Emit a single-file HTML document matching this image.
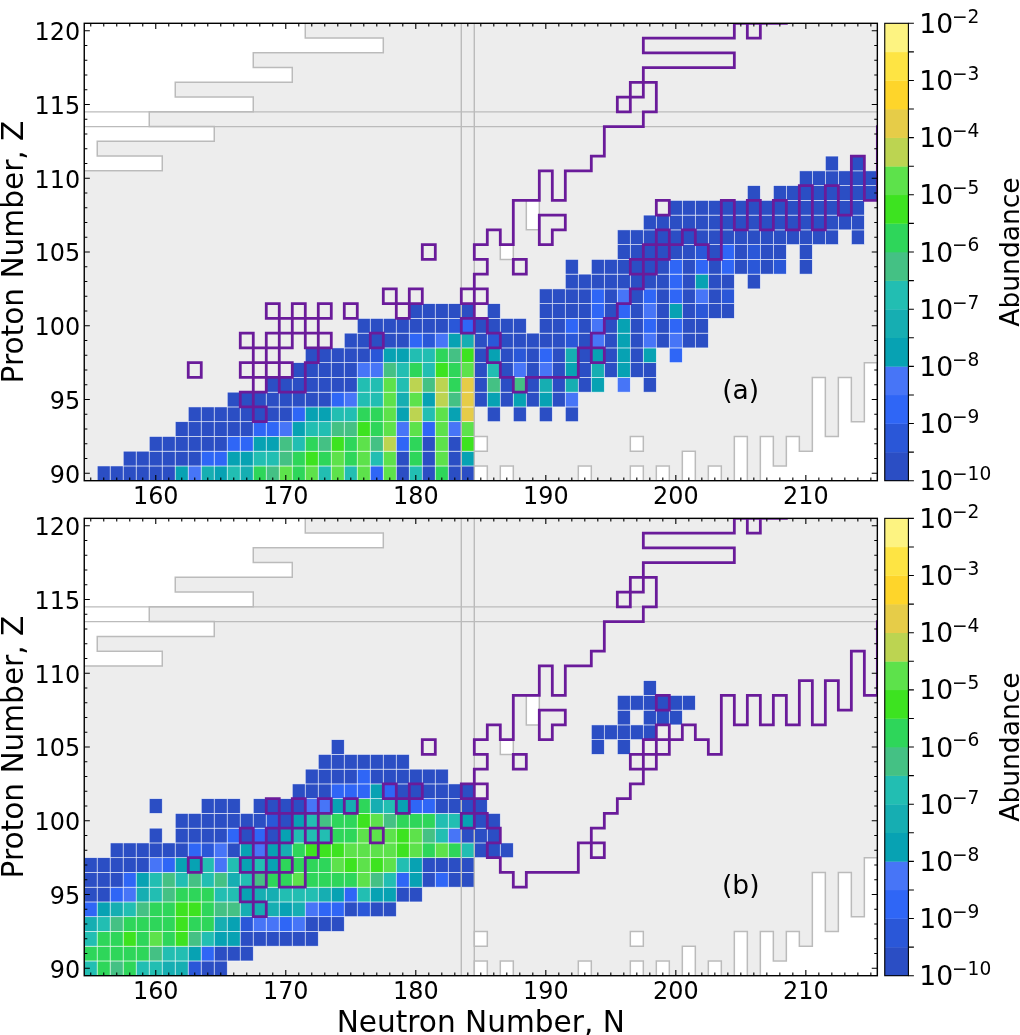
<!DOCTYPE html><html><head><meta charset="utf-8"><style>html,body{margin:0;padding:0;background:#fff}svg{display:block}text{font-family:"DejaVu Sans","Liberation Sans",sans-serif;fill:#000}</style></head><body>
<svg width="1020" height="1035" viewBox="0 0 1020 1035">
<rect width="1020" height="1035" fill="#fff"/>
<clipPath id="clipa"><rect x="84.25" y="23.3" width="793.1" height="457.4"/></clipPath>
<rect x="84.25" y="23.3" width="793.1" height="457.4" fill="#ededed"/>
<g clip-path="url(#clipa)"><g>
<path d="M474.3 465.55H487.3V481.1H474.3ZM500.3 465.55H513.3V481.1H500.3ZM578.31 465.55H591.31V481.1H578.31ZM630.32 465.55H643.32V481.1H630.32ZM656.32 465.55H669.32V481.1H656.32ZM682.33 465.55H695.33V481.1H682.33ZM708.33 465.55H721.33V481.1H708.33ZM734.33 465.55H747.33V481.1H734.33ZM760.34 465.55H877.35V481.1H760.34ZM682.33 450.79H695.33V466.35H682.33ZM734.33 450.79H747.33V466.35H734.33ZM760.34 450.79H773.34V466.35H760.34ZM786.34 450.79H877.35V466.35H786.34ZM474.3 436.04H487.3V451.59H474.3ZM630.32 436.04H643.32V451.59H630.32ZM734.33 436.04H747.33V451.59H734.33ZM760.34 436.04H773.34V451.59H760.34ZM786.34 436.04H799.34V451.59H786.34ZM812.34 436.04H877.35V451.59H812.34ZM812.34 421.28H825.34V436.84H812.34ZM838.35 421.28H877.35V436.84H838.35ZM812.34 406.53H825.34V422.08H812.34ZM838.35 406.53H851.35V422.08H838.35ZM864.35 406.53H877.35V422.08H864.35ZM812.34 391.77H825.34V407.33H812.34ZM838.35 391.77H851.35V407.33H838.35ZM864.35 391.77H877.35V407.33H864.35ZM812.34 377.02H825.34V392.57H812.34ZM838.35 377.02H851.35V392.57H838.35ZM864.35 377.02H877.35V392.57H864.35ZM864.35 362.26H877.35V377.82H864.35ZM500.3 244.22H513.3V259.78H500.3ZM526.31 214.71H539.31V230.27H526.31ZM526.31 199.96H539.31V215.51H526.31ZM84.25 155.69H162.26V171.25H84.25ZM84.25 140.94H97.25V156.49H84.25ZM84.25 126.18H214.27V141.74H84.25ZM84.25 111.43H149.26V126.98H84.25ZM84.25 96.67H253.27V112.23H84.25ZM84.25 81.92H175.26V97.47H84.25ZM84.25 67.16H292.28V82.72H84.25ZM84.25 52.41H253.27V67.96H84.25ZM84.25 37.65H383.29V53.21H84.25ZM84.25 22.9H305.28V38.45H84.25Z" fill="#fff"/>
<path d="M97.25 141.34H214.27M474.3 480.7H487.3M500.3 480.7H513.3M578.31 480.7H591.31M630.32 480.7H643.32M656.32 480.7H669.32M682.33 480.7H695.33M708.33 480.7H721.33M734.33 480.7H747.33M760.34 480.7H877.35M474.3 465.95H487.3M500.3 465.95H513.3M578.31 465.95H591.31M630.32 465.95H643.32M656.32 465.95H669.32M708.33 465.95H721.33M773.34 465.95H786.34M149.26 126.58H214.27M253.27 52.81H383.29M305.28 38.05H383.29M500.3 259.38H513.3M500.3 244.62H513.3M149.26 111.83H253.27M175.26 97.07H253.27M474.3 436.44H487.3M630.32 436.44H643.32M734.33 436.44H747.33M760.34 436.44H773.34M786.34 436.44H799.34M825.34 436.44H838.35M84.25 23.3H305.28M175.26 82.32H292.28M474.3 451.19H487.3M630.32 451.19H643.32M682.33 451.19H695.33M799.34 451.19H812.34M812.34 377.42H825.34M838.35 377.42H851.35M253.27 67.56H292.28M84.25 170.85H162.26M97.25 156.09H162.26M864.35 362.66H877.35M526.31 200.36H539.31M526.31 229.87H539.31M851.35 421.68H864.35M708.33 465.95V480.7M721.33 465.95V480.7M760.34 436.44V480.7M149.26 111.83V126.58M864.35 362.66V421.68M877.35 362.66V480.7M84.25 23.3V170.85M383.29 38.05V52.81M500.3 465.95V480.7M500.3 244.62V259.38M513.3 465.95V480.7M513.3 244.62V259.38M773.34 436.44V465.95M175.26 82.32V97.07M97.25 141.34V156.09M630.32 465.95V480.7M630.32 436.44V451.19M643.32 465.95V480.7M643.32 436.44V451.19M305.28 23.3V38.05M656.32 465.95V480.7M669.32 465.95V480.7M812.34 377.42V451.19M825.34 377.42V436.44M253.27 97.07V111.83M253.27 52.81V67.56M838.35 377.42V436.44M851.35 377.42V421.68M734.33 436.44V480.7M747.33 436.44V480.7M578.31 465.95V480.7M591.31 465.95V480.7M786.34 436.44V465.95M799.34 436.44V451.19M682.33 451.19V480.7M695.33 451.19V480.7M474.3 465.95V480.7M474.3 436.44V451.19M487.3 465.95V480.7M487.3 436.44V451.19M526.31 200.36V229.87M539.31 200.36V229.87M162.26 156.09V170.85M214.27 126.58V141.34M292.28 67.56V82.32" stroke="#bbbbbb" stroke-width="1.5" fill="none" stroke-linecap="square"/>
<rect x="97.25" y="465.95" width="13" height="14.75" fill="#2b4ec4" stroke="#fff" stroke-opacity="0.75" stroke-width="0.7"/>
<rect x="110.25" y="465.95" width="13" height="14.75" fill="#2b4ec4" stroke="#fff" stroke-opacity="0.75" stroke-width="0.7"/>
<rect x="123.25" y="465.95" width="13" height="14.75" fill="#2b4ec4" stroke="#fff" stroke-opacity="0.75" stroke-width="0.7"/>
<rect x="136.26" y="465.95" width="13" height="14.75" fill="#2b4ec4" stroke="#fff" stroke-opacity="0.75" stroke-width="0.7"/>
<rect x="149.26" y="465.95" width="13" height="14.75" fill="#2b4ec4" stroke="#fff" stroke-opacity="0.75" stroke-width="0.7"/>
<rect x="162.26" y="465.95" width="13" height="14.75" fill="#2b4ec4" stroke="#fff" stroke-opacity="0.75" stroke-width="0.7"/>
<rect x="175.26" y="465.95" width="13" height="14.75" fill="#07a2b3" stroke="#fff" stroke-opacity="0.75" stroke-width="0.7"/>
<rect x="188.26" y="465.95" width="13" height="14.75" fill="#4775f7" stroke="#fff" stroke-opacity="0.75" stroke-width="0.7"/>
<rect x="201.26" y="465.95" width="13" height="14.75" fill="#16aeb2" stroke="#fff" stroke-opacity="0.75" stroke-width="0.7"/>
<rect x="214.27" y="465.95" width="13" height="14.75" fill="#07a2b3" stroke="#fff" stroke-opacity="0.75" stroke-width="0.7"/>
<rect x="227.27" y="465.95" width="13" height="14.75" fill="#22beb2" stroke="#fff" stroke-opacity="0.75" stroke-width="0.7"/>
<rect x="240.27" y="465.95" width="13" height="14.75" fill="#16aeb2" stroke="#fff" stroke-opacity="0.75" stroke-width="0.7"/>
<rect x="253.27" y="465.95" width="13" height="14.75" fill="#2ed65a" stroke="#fff" stroke-opacity="0.75" stroke-width="0.7"/>
<rect x="266.27" y="465.95" width="13" height="14.75" fill="#44c184" stroke="#fff" stroke-opacity="0.75" stroke-width="0.7"/>
<rect x="279.27" y="465.95" width="13" height="14.75" fill="#5de24b" stroke="#fff" stroke-opacity="0.75" stroke-width="0.7"/>
<rect x="292.28" y="465.95" width="13" height="14.75" fill="#2ed65a" stroke="#fff" stroke-opacity="0.75" stroke-width="0.7"/>
<rect x="305.28" y="465.95" width="13" height="14.75" fill="#5de24b" stroke="#fff" stroke-opacity="0.75" stroke-width="0.7"/>
<rect x="318.28" y="465.95" width="13" height="14.75" fill="#22beb2" stroke="#fff" stroke-opacity="0.75" stroke-width="0.7"/>
<rect x="331.28" y="465.95" width="13" height="14.75" fill="#5de24b" stroke="#fff" stroke-opacity="0.75" stroke-width="0.7"/>
<rect x="344.28" y="465.95" width="13" height="14.75" fill="#22beb2" stroke="#fff" stroke-opacity="0.75" stroke-width="0.7"/>
<rect x="357.28" y="465.95" width="13" height="14.75" fill="#5de24b" stroke="#fff" stroke-opacity="0.75" stroke-width="0.7"/>
<rect x="370.29" y="465.95" width="13" height="14.75" fill="#2f66f6" stroke="#fff" stroke-opacity="0.75" stroke-width="0.7"/>
<rect x="383.29" y="465.95" width="13" height="14.75" fill="#5de24b" stroke="#fff" stroke-opacity="0.75" stroke-width="0.7"/>
<rect x="396.29" y="465.95" width="13" height="14.75" fill="#2b4ec4" stroke="#fff" stroke-opacity="0.75" stroke-width="0.7"/>
<rect x="409.29" y="465.95" width="13" height="14.75" fill="#22beb2" stroke="#fff" stroke-opacity="0.75" stroke-width="0.7"/>
<rect x="422.29" y="465.95" width="13" height="14.75" fill="#2b4ec4" stroke="#fff" stroke-opacity="0.75" stroke-width="0.7"/>
<rect x="435.29" y="465.95" width="13" height="14.75" fill="#2ed65a" stroke="#fff" stroke-opacity="0.75" stroke-width="0.7"/>
<rect x="448.3" y="465.95" width="13" height="14.75" fill="#2b4ec4" stroke="#fff" stroke-opacity="0.75" stroke-width="0.7"/>
<rect x="461.3" y="465.95" width="13" height="14.75" fill="#2b4ec4" stroke="#fff" stroke-opacity="0.75" stroke-width="0.7"/>
<rect x="123.25" y="451.19" width="13" height="14.75" fill="#2b4ec4" stroke="#fff" stroke-opacity="0.75" stroke-width="0.7"/>
<rect x="136.26" y="451.19" width="13" height="14.75" fill="#2b4ec4" stroke="#fff" stroke-opacity="0.75" stroke-width="0.7"/>
<rect x="149.26" y="451.19" width="13" height="14.75" fill="#2b4ec4" stroke="#fff" stroke-opacity="0.75" stroke-width="0.7"/>
<rect x="162.26" y="451.19" width="13" height="14.75" fill="#2b4ec4" stroke="#fff" stroke-opacity="0.75" stroke-width="0.7"/>
<rect x="175.26" y="451.19" width="13" height="14.75" fill="#2b4ec4" stroke="#fff" stroke-opacity="0.75" stroke-width="0.7"/>
<rect x="188.26" y="451.19" width="13" height="14.75" fill="#2b4ec4" stroke="#fff" stroke-opacity="0.75" stroke-width="0.7"/>
<rect x="201.26" y="451.19" width="13" height="14.75" fill="#2f66f6" stroke="#fff" stroke-opacity="0.75" stroke-width="0.7"/>
<rect x="214.27" y="451.19" width="13" height="14.75" fill="#2f66f6" stroke="#fff" stroke-opacity="0.75" stroke-width="0.7"/>
<rect x="227.27" y="451.19" width="13" height="14.75" fill="#07a2b3" stroke="#fff" stroke-opacity="0.75" stroke-width="0.7"/>
<rect x="240.27" y="451.19" width="13" height="14.75" fill="#07a2b3" stroke="#fff" stroke-opacity="0.75" stroke-width="0.7"/>
<rect x="253.27" y="451.19" width="13" height="14.75" fill="#22beb2" stroke="#fff" stroke-opacity="0.75" stroke-width="0.7"/>
<rect x="266.27" y="451.19" width="13" height="14.75" fill="#22beb2" stroke="#fff" stroke-opacity="0.75" stroke-width="0.7"/>
<rect x="279.27" y="451.19" width="13" height="14.75" fill="#44c184" stroke="#fff" stroke-opacity="0.75" stroke-width="0.7"/>
<rect x="292.28" y="451.19" width="13" height="14.75" fill="#2ed65a" stroke="#fff" stroke-opacity="0.75" stroke-width="0.7"/>
<rect x="305.28" y="451.19" width="13" height="14.75" fill="#3de320" stroke="#fff" stroke-opacity="0.75" stroke-width="0.7"/>
<rect x="318.28" y="451.19" width="13" height="14.75" fill="#2ed65a" stroke="#fff" stroke-opacity="0.75" stroke-width="0.7"/>
<rect x="331.28" y="451.19" width="13" height="14.75" fill="#5de24b" stroke="#fff" stroke-opacity="0.75" stroke-width="0.7"/>
<rect x="344.28" y="451.19" width="13" height="14.75" fill="#2ed65a" stroke="#fff" stroke-opacity="0.75" stroke-width="0.7"/>
<rect x="357.28" y="451.19" width="13" height="14.75" fill="#5de24b" stroke="#fff" stroke-opacity="0.75" stroke-width="0.7"/>
<rect x="370.29" y="451.19" width="13" height="14.75" fill="#22beb2" stroke="#fff" stroke-opacity="0.75" stroke-width="0.7"/>
<rect x="383.29" y="451.19" width="13" height="14.75" fill="#5de24b" stroke="#fff" stroke-opacity="0.75" stroke-width="0.7"/>
<rect x="396.29" y="451.19" width="13" height="14.75" fill="#2b4ec4" stroke="#fff" stroke-opacity="0.75" stroke-width="0.7"/>
<rect x="409.29" y="451.19" width="13" height="14.75" fill="#2ed65a" stroke="#fff" stroke-opacity="0.75" stroke-width="0.7"/>
<rect x="422.29" y="451.19" width="13" height="14.75" fill="#2b4ec4" stroke="#fff" stroke-opacity="0.75" stroke-width="0.7"/>
<rect x="435.29" y="451.19" width="13" height="14.75" fill="#5de24b" stroke="#fff" stroke-opacity="0.75" stroke-width="0.7"/>
<rect x="448.3" y="451.19" width="13" height="14.75" fill="#2b4ec4" stroke="#fff" stroke-opacity="0.75" stroke-width="0.7"/>
<rect x="461.3" y="451.19" width="13" height="14.75" fill="#07a2b3" stroke="#fff" stroke-opacity="0.75" stroke-width="0.7"/>
<rect x="149.26" y="436.44" width="13" height="14.75" fill="#2b4ec4" stroke="#fff" stroke-opacity="0.75" stroke-width="0.7"/>
<rect x="162.26" y="436.44" width="13" height="14.75" fill="#2b4ec4" stroke="#fff" stroke-opacity="0.75" stroke-width="0.7"/>
<rect x="175.26" y="436.44" width="13" height="14.75" fill="#2b4ec4" stroke="#fff" stroke-opacity="0.75" stroke-width="0.7"/>
<rect x="188.26" y="436.44" width="13" height="14.75" fill="#2b4ec4" stroke="#fff" stroke-opacity="0.75" stroke-width="0.7"/>
<rect x="201.26" y="436.44" width="13" height="14.75" fill="#2b4ec4" stroke="#fff" stroke-opacity="0.75" stroke-width="0.7"/>
<rect x="214.27" y="436.44" width="13" height="14.75" fill="#2b4ec4" stroke="#fff" stroke-opacity="0.75" stroke-width="0.7"/>
<rect x="227.27" y="436.44" width="13" height="14.75" fill="#2f66f6" stroke="#fff" stroke-opacity="0.75" stroke-width="0.7"/>
<rect x="240.27" y="436.44" width="13" height="14.75" fill="#2f66f6" stroke="#fff" stroke-opacity="0.75" stroke-width="0.7"/>
<rect x="253.27" y="436.44" width="13" height="14.75" fill="#07a2b3" stroke="#fff" stroke-opacity="0.75" stroke-width="0.7"/>
<rect x="266.27" y="436.44" width="13" height="14.75" fill="#07a2b3" stroke="#fff" stroke-opacity="0.75" stroke-width="0.7"/>
<rect x="279.27" y="436.44" width="13" height="14.75" fill="#44c184" stroke="#fff" stroke-opacity="0.75" stroke-width="0.7"/>
<rect x="292.28" y="436.44" width="13" height="14.75" fill="#22beb2" stroke="#fff" stroke-opacity="0.75" stroke-width="0.7"/>
<rect x="305.28" y="436.44" width="13" height="14.75" fill="#2ed65a" stroke="#fff" stroke-opacity="0.75" stroke-width="0.7"/>
<rect x="318.28" y="436.44" width="13" height="14.75" fill="#44c184" stroke="#fff" stroke-opacity="0.75" stroke-width="0.7"/>
<rect x="331.28" y="436.44" width="13" height="14.75" fill="#3de320" stroke="#fff" stroke-opacity="0.75" stroke-width="0.7"/>
<rect x="344.28" y="436.44" width="13" height="14.75" fill="#2ed65a" stroke="#fff" stroke-opacity="0.75" stroke-width="0.7"/>
<rect x="357.28" y="436.44" width="13" height="14.75" fill="#5de24b" stroke="#fff" stroke-opacity="0.75" stroke-width="0.7"/>
<rect x="370.29" y="436.44" width="13" height="14.75" fill="#44c184" stroke="#fff" stroke-opacity="0.75" stroke-width="0.7"/>
<rect x="383.29" y="436.44" width="13" height="14.75" fill="#bcd451" stroke="#fff" stroke-opacity="0.75" stroke-width="0.7"/>
<rect x="396.29" y="436.44" width="13" height="14.75" fill="#2f66f6" stroke="#fff" stroke-opacity="0.75" stroke-width="0.7"/>
<rect x="409.29" y="436.44" width="13" height="14.75" fill="#2ed65a" stroke="#fff" stroke-opacity="0.75" stroke-width="0.7"/>
<rect x="422.29" y="436.44" width="13" height="14.75" fill="#2b4ec4" stroke="#fff" stroke-opacity="0.75" stroke-width="0.7"/>
<rect x="435.29" y="436.44" width="13" height="14.75" fill="#5de24b" stroke="#fff" stroke-opacity="0.75" stroke-width="0.7"/>
<rect x="448.3" y="436.44" width="13" height="14.75" fill="#2b4ec4" stroke="#fff" stroke-opacity="0.75" stroke-width="0.7"/>
<rect x="461.3" y="436.44" width="13" height="14.75" fill="#3de320" stroke="#fff" stroke-opacity="0.75" stroke-width="0.7"/>
<rect x="175.26" y="421.68" width="13" height="14.75" fill="#2b4ec4" stroke="#fff" stroke-opacity="0.75" stroke-width="0.7"/>
<rect x="188.26" y="421.68" width="13" height="14.75" fill="#2b4ec4" stroke="#fff" stroke-opacity="0.75" stroke-width="0.7"/>
<rect x="201.26" y="421.68" width="13" height="14.75" fill="#2b4ec4" stroke="#fff" stroke-opacity="0.75" stroke-width="0.7"/>
<rect x="214.27" y="421.68" width="13" height="14.75" fill="#2b4ec4" stroke="#fff" stroke-opacity="0.75" stroke-width="0.7"/>
<rect x="227.27" y="421.68" width="13" height="14.75" fill="#2b4ec4" stroke="#fff" stroke-opacity="0.75" stroke-width="0.7"/>
<rect x="240.27" y="421.68" width="13" height="14.75" fill="#2b4ec4" stroke="#fff" stroke-opacity="0.75" stroke-width="0.7"/>
<rect x="253.27" y="421.68" width="13" height="14.75" fill="#2f66f6" stroke="#fff" stroke-opacity="0.75" stroke-width="0.7"/>
<rect x="266.27" y="421.68" width="13" height="14.75" fill="#2f66f6" stroke="#fff" stroke-opacity="0.75" stroke-width="0.7"/>
<rect x="279.27" y="421.68" width="13" height="14.75" fill="#4775f7" stroke="#fff" stroke-opacity="0.75" stroke-width="0.7"/>
<rect x="292.28" y="421.68" width="13" height="14.75" fill="#07a2b3" stroke="#fff" stroke-opacity="0.75" stroke-width="0.7"/>
<rect x="305.28" y="421.68" width="13" height="14.75" fill="#22beb2" stroke="#fff" stroke-opacity="0.75" stroke-width="0.7"/>
<rect x="318.28" y="421.68" width="13" height="14.75" fill="#22beb2" stroke="#fff" stroke-opacity="0.75" stroke-width="0.7"/>
<rect x="331.28" y="421.68" width="13" height="14.75" fill="#44c184" stroke="#fff" stroke-opacity="0.75" stroke-width="0.7"/>
<rect x="344.28" y="421.68" width="13" height="14.75" fill="#44c184" stroke="#fff" stroke-opacity="0.75" stroke-width="0.7"/>
<rect x="357.28" y="421.68" width="13" height="14.75" fill="#3de320" stroke="#fff" stroke-opacity="0.75" stroke-width="0.7"/>
<rect x="370.29" y="421.68" width="13" height="14.75" fill="#2ed65a" stroke="#fff" stroke-opacity="0.75" stroke-width="0.7"/>
<rect x="383.29" y="421.68" width="13" height="14.75" fill="#5de24b" stroke="#fff" stroke-opacity="0.75" stroke-width="0.7"/>
<rect x="396.29" y="421.68" width="13" height="14.75" fill="#4775f7" stroke="#fff" stroke-opacity="0.75" stroke-width="0.7"/>
<rect x="409.29" y="421.68" width="13" height="14.75" fill="#5de24b" stroke="#fff" stroke-opacity="0.75" stroke-width="0.7"/>
<rect x="422.29" y="421.68" width="13" height="14.75" fill="#2f66f6" stroke="#fff" stroke-opacity="0.75" stroke-width="0.7"/>
<rect x="435.29" y="421.68" width="13" height="14.75" fill="#5de24b" stroke="#fff" stroke-opacity="0.75" stroke-width="0.7"/>
<rect x="448.3" y="421.68" width="13" height="14.75" fill="#4775f7" stroke="#fff" stroke-opacity="0.75" stroke-width="0.7"/>
<rect x="461.3" y="421.68" width="13" height="14.75" fill="#5de24b" stroke="#fff" stroke-opacity="0.75" stroke-width="0.7"/>
<rect x="188.26" y="406.93" width="13" height="14.75" fill="#2b4ec4" stroke="#fff" stroke-opacity="0.75" stroke-width="0.7"/>
<rect x="201.26" y="406.93" width="13" height="14.75" fill="#2b4ec4" stroke="#fff" stroke-opacity="0.75" stroke-width="0.7"/>
<rect x="214.27" y="406.93" width="13" height="14.75" fill="#2b4ec4" stroke="#fff" stroke-opacity="0.75" stroke-width="0.7"/>
<rect x="227.27" y="406.93" width="13" height="14.75" fill="#2b4ec4" stroke="#fff" stroke-opacity="0.75" stroke-width="0.7"/>
<rect x="240.27" y="406.93" width="13" height="14.75" fill="#2b4ec4" stroke="#fff" stroke-opacity="0.75" stroke-width="0.7"/>
<rect x="253.27" y="406.93" width="13" height="14.75" fill="#2b4ec4" stroke="#fff" stroke-opacity="0.75" stroke-width="0.7"/>
<rect x="266.27" y="406.93" width="13" height="14.75" fill="#2b4ec4" stroke="#fff" stroke-opacity="0.75" stroke-width="0.7"/>
<rect x="279.27" y="406.93" width="13" height="14.75" fill="#2b4ec4" stroke="#fff" stroke-opacity="0.75" stroke-width="0.7"/>
<rect x="292.28" y="406.93" width="13" height="14.75" fill="#2f66f6" stroke="#fff" stroke-opacity="0.75" stroke-width="0.7"/>
<rect x="305.28" y="406.93" width="13" height="14.75" fill="#07a2b3" stroke="#fff" stroke-opacity="0.75" stroke-width="0.7"/>
<rect x="318.28" y="406.93" width="13" height="14.75" fill="#07a2b3" stroke="#fff" stroke-opacity="0.75" stroke-width="0.7"/>
<rect x="331.28" y="406.93" width="13" height="14.75" fill="#22beb2" stroke="#fff" stroke-opacity="0.75" stroke-width="0.7"/>
<rect x="344.28" y="406.93" width="13" height="14.75" fill="#22beb2" stroke="#fff" stroke-opacity="0.75" stroke-width="0.7"/>
<rect x="357.28" y="406.93" width="13" height="14.75" fill="#2ed65a" stroke="#fff" stroke-opacity="0.75" stroke-width="0.7"/>
<rect x="370.29" y="406.93" width="13" height="14.75" fill="#2ed65a" stroke="#fff" stroke-opacity="0.75" stroke-width="0.7"/>
<rect x="383.29" y="406.93" width="13" height="14.75" fill="#5de24b" stroke="#fff" stroke-opacity="0.75" stroke-width="0.7"/>
<rect x="396.29" y="406.93" width="13" height="14.75" fill="#07a2b3" stroke="#fff" stroke-opacity="0.75" stroke-width="0.7"/>
<rect x="409.29" y="406.93" width="13" height="14.75" fill="#bcd451" stroke="#fff" stroke-opacity="0.75" stroke-width="0.7"/>
<rect x="422.29" y="406.93" width="13" height="14.75" fill="#22beb2" stroke="#fff" stroke-opacity="0.75" stroke-width="0.7"/>
<rect x="435.29" y="406.93" width="13" height="14.75" fill="#5de24b" stroke="#fff" stroke-opacity="0.75" stroke-width="0.7"/>
<rect x="448.3" y="406.93" width="13" height="14.75" fill="#07a2b3" stroke="#fff" stroke-opacity="0.75" stroke-width="0.7"/>
<rect x="461.3" y="406.93" width="13" height="14.75" fill="#e6cc48" stroke="#fff" stroke-opacity="0.75" stroke-width="0.7"/>
<rect x="487.3" y="406.93" width="13" height="14.75" fill="#2b4ec4" stroke="#fff" stroke-opacity="0.75" stroke-width="0.7"/>
<rect x="513.3" y="406.93" width="13" height="14.75" fill="#2b4ec4" stroke="#fff" stroke-opacity="0.75" stroke-width="0.7"/>
<rect x="539.31" y="406.93" width="13" height="14.75" fill="#2b4ec4" stroke="#fff" stroke-opacity="0.75" stroke-width="0.7"/>
<rect x="565.31" y="406.93" width="13" height="14.75" fill="#2b4ec4" stroke="#fff" stroke-opacity="0.75" stroke-width="0.7"/>
<rect x="227.27" y="392.17" width="13" height="14.75" fill="#2b4ec4" stroke="#fff" stroke-opacity="0.75" stroke-width="0.7"/>
<rect x="240.27" y="392.17" width="13" height="14.75" fill="#2b4ec4" stroke="#fff" stroke-opacity="0.75" stroke-width="0.7"/>
<rect x="253.27" y="392.17" width="13" height="14.75" fill="#2b4ec4" stroke="#fff" stroke-opacity="0.75" stroke-width="0.7"/>
<rect x="266.27" y="392.17" width="13" height="14.75" fill="#2b4ec4" stroke="#fff" stroke-opacity="0.75" stroke-width="0.7"/>
<rect x="279.27" y="392.17" width="13" height="14.75" fill="#2b4ec4" stroke="#fff" stroke-opacity="0.75" stroke-width="0.7"/>
<rect x="292.28" y="392.17" width="13" height="14.75" fill="#2b4ec4" stroke="#fff" stroke-opacity="0.75" stroke-width="0.7"/>
<rect x="305.28" y="392.17" width="13" height="14.75" fill="#2b4ec4" stroke="#fff" stroke-opacity="0.75" stroke-width="0.7"/>
<rect x="318.28" y="392.17" width="13" height="14.75" fill="#2b4ec4" stroke="#fff" stroke-opacity="0.75" stroke-width="0.7"/>
<rect x="331.28" y="392.17" width="13" height="14.75" fill="#2f66f6" stroke="#fff" stroke-opacity="0.75" stroke-width="0.7"/>
<rect x="344.28" y="392.17" width="13" height="14.75" fill="#4775f7" stroke="#fff" stroke-opacity="0.75" stroke-width="0.7"/>
<rect x="357.28" y="392.17" width="13" height="14.75" fill="#22beb2" stroke="#fff" stroke-opacity="0.75" stroke-width="0.7"/>
<rect x="370.29" y="392.17" width="13" height="14.75" fill="#22beb2" stroke="#fff" stroke-opacity="0.75" stroke-width="0.7"/>
<rect x="383.29" y="392.17" width="13" height="14.75" fill="#5de24b" stroke="#fff" stroke-opacity="0.75" stroke-width="0.7"/>
<rect x="396.29" y="392.17" width="13" height="14.75" fill="#16aeb2" stroke="#fff" stroke-opacity="0.75" stroke-width="0.7"/>
<rect x="409.29" y="392.17" width="13" height="14.75" fill="#5de24b" stroke="#fff" stroke-opacity="0.75" stroke-width="0.7"/>
<rect x="422.29" y="392.17" width="13" height="14.75" fill="#07a2b3" stroke="#fff" stroke-opacity="0.75" stroke-width="0.7"/>
<rect x="435.29" y="392.17" width="13" height="14.75" fill="#bcd451" stroke="#fff" stroke-opacity="0.75" stroke-width="0.7"/>
<rect x="448.3" y="392.17" width="13" height="14.75" fill="#44c184" stroke="#fff" stroke-opacity="0.75" stroke-width="0.7"/>
<rect x="461.3" y="392.17" width="13" height="14.75" fill="#e6cc48" stroke="#fff" stroke-opacity="0.75" stroke-width="0.7"/>
<rect x="474.3" y="392.17" width="13" height="14.75" fill="#2b4ec4" stroke="#fff" stroke-opacity="0.75" stroke-width="0.7"/>
<rect x="487.3" y="392.17" width="13" height="14.75" fill="#07a2b3" stroke="#fff" stroke-opacity="0.75" stroke-width="0.7"/>
<rect x="500.3" y="392.17" width="13" height="14.75" fill="#2b4ec4" stroke="#fff" stroke-opacity="0.75" stroke-width="0.7"/>
<rect x="513.3" y="392.17" width="13" height="14.75" fill="#07a2b3" stroke="#fff" stroke-opacity="0.75" stroke-width="0.7"/>
<rect x="526.31" y="392.17" width="13" height="14.75" fill="#2b4ec4" stroke="#fff" stroke-opacity="0.75" stroke-width="0.7"/>
<rect x="539.31" y="392.17" width="13" height="14.75" fill="#07a2b3" stroke="#fff" stroke-opacity="0.75" stroke-width="0.7"/>
<rect x="552.31" y="392.17" width="13" height="14.75" fill="#2b4ec4" stroke="#fff" stroke-opacity="0.75" stroke-width="0.7"/>
<rect x="565.31" y="392.17" width="13" height="14.75" fill="#4775f7" stroke="#fff" stroke-opacity="0.75" stroke-width="0.7"/>
<rect x="266.27" y="377.42" width="13" height="14.75" fill="#2b4ec4" stroke="#fff" stroke-opacity="0.75" stroke-width="0.7"/>
<rect x="279.27" y="377.42" width="13" height="14.75" fill="#2b4ec4" stroke="#fff" stroke-opacity="0.75" stroke-width="0.7"/>
<rect x="292.28" y="377.42" width="13" height="14.75" fill="#2b4ec4" stroke="#fff" stroke-opacity="0.75" stroke-width="0.7"/>
<rect x="305.28" y="377.42" width="13" height="14.75" fill="#2b4ec4" stroke="#fff" stroke-opacity="0.75" stroke-width="0.7"/>
<rect x="318.28" y="377.42" width="13" height="14.75" fill="#2b4ec4" stroke="#fff" stroke-opacity="0.75" stroke-width="0.7"/>
<rect x="331.28" y="377.42" width="13" height="14.75" fill="#2b4ec4" stroke="#fff" stroke-opacity="0.75" stroke-width="0.7"/>
<rect x="344.28" y="377.42" width="13" height="14.75" fill="#2b4ec4" stroke="#fff" stroke-opacity="0.75" stroke-width="0.7"/>
<rect x="357.28" y="377.42" width="13" height="14.75" fill="#22beb2" stroke="#fff" stroke-opacity="0.75" stroke-width="0.7"/>
<rect x="370.29" y="377.42" width="13" height="14.75" fill="#22beb2" stroke="#fff" stroke-opacity="0.75" stroke-width="0.7"/>
<rect x="383.29" y="377.42" width="13" height="14.75" fill="#5de24b" stroke="#fff" stroke-opacity="0.75" stroke-width="0.7"/>
<rect x="396.29" y="377.42" width="13" height="14.75" fill="#22beb2" stroke="#fff" stroke-opacity="0.75" stroke-width="0.7"/>
<rect x="409.29" y="377.42" width="13" height="14.75" fill="#bcd451" stroke="#fff" stroke-opacity="0.75" stroke-width="0.7"/>
<rect x="422.29" y="377.42" width="13" height="14.75" fill="#44c184" stroke="#fff" stroke-opacity="0.75" stroke-width="0.7"/>
<rect x="435.29" y="377.42" width="13" height="14.75" fill="#bcd451" stroke="#fff" stroke-opacity="0.75" stroke-width="0.7"/>
<rect x="448.3" y="377.42" width="13" height="14.75" fill="#2ed65a" stroke="#fff" stroke-opacity="0.75" stroke-width="0.7"/>
<rect x="461.3" y="377.42" width="13" height="14.75" fill="#e6cc48" stroke="#fff" stroke-opacity="0.75" stroke-width="0.7"/>
<rect x="474.3" y="377.42" width="13" height="14.75" fill="#2b4ec4" stroke="#fff" stroke-opacity="0.75" stroke-width="0.7"/>
<rect x="487.3" y="377.42" width="13" height="14.75" fill="#44c184" stroke="#fff" stroke-opacity="0.75" stroke-width="0.7"/>
<rect x="500.3" y="377.42" width="13" height="14.75" fill="#2b4ec4" stroke="#fff" stroke-opacity="0.75" stroke-width="0.7"/>
<rect x="513.3" y="377.42" width="13" height="14.75" fill="#44c184" stroke="#fff" stroke-opacity="0.75" stroke-width="0.7"/>
<rect x="526.31" y="377.42" width="13" height="14.75" fill="#2b4ec4" stroke="#fff" stroke-opacity="0.75" stroke-width="0.7"/>
<rect x="539.31" y="377.42" width="13" height="14.75" fill="#16aeb2" stroke="#fff" stroke-opacity="0.75" stroke-width="0.7"/>
<rect x="552.31" y="377.42" width="13" height="14.75" fill="#2b4ec4" stroke="#fff" stroke-opacity="0.75" stroke-width="0.7"/>
<rect x="565.31" y="377.42" width="13" height="14.75" fill="#16aeb2" stroke="#fff" stroke-opacity="0.75" stroke-width="0.7"/>
<rect x="578.31" y="377.42" width="13" height="14.75" fill="#2b4ec4" stroke="#fff" stroke-opacity="0.75" stroke-width="0.7"/>
<rect x="591.31" y="377.42" width="13" height="14.75" fill="#07a2b3" stroke="#fff" stroke-opacity="0.75" stroke-width="0.7"/>
<rect x="617.32" y="377.42" width="13" height="14.75" fill="#4775f7" stroke="#fff" stroke-opacity="0.75" stroke-width="0.7"/>
<rect x="643.32" y="377.42" width="13" height="14.75" fill="#2b4ec4" stroke="#fff" stroke-opacity="0.75" stroke-width="0.7"/>
<rect x="292.28" y="362.66" width="13" height="14.75" fill="#2b4ec4" stroke="#fff" stroke-opacity="0.75" stroke-width="0.7"/>
<rect x="305.28" y="362.66" width="13" height="14.75" fill="#2b4ec4" stroke="#fff" stroke-opacity="0.75" stroke-width="0.7"/>
<rect x="318.28" y="362.66" width="13" height="14.75" fill="#2b4ec4" stroke="#fff" stroke-opacity="0.75" stroke-width="0.7"/>
<rect x="331.28" y="362.66" width="13" height="14.75" fill="#2b4ec4" stroke="#fff" stroke-opacity="0.75" stroke-width="0.7"/>
<rect x="344.28" y="362.66" width="13" height="14.75" fill="#2b4ec4" stroke="#fff" stroke-opacity="0.75" stroke-width="0.7"/>
<rect x="357.28" y="362.66" width="13" height="14.75" fill="#4775f7" stroke="#fff" stroke-opacity="0.75" stroke-width="0.7"/>
<rect x="370.29" y="362.66" width="13" height="14.75" fill="#4775f7" stroke="#fff" stroke-opacity="0.75" stroke-width="0.7"/>
<rect x="383.29" y="362.66" width="13" height="14.75" fill="#44c184" stroke="#fff" stroke-opacity="0.75" stroke-width="0.7"/>
<rect x="396.29" y="362.66" width="13" height="14.75" fill="#22beb2" stroke="#fff" stroke-opacity="0.75" stroke-width="0.7"/>
<rect x="409.29" y="362.66" width="13" height="14.75" fill="#2ed65a" stroke="#fff" stroke-opacity="0.75" stroke-width="0.7"/>
<rect x="422.29" y="362.66" width="13" height="14.75" fill="#22beb2" stroke="#fff" stroke-opacity="0.75" stroke-width="0.7"/>
<rect x="435.29" y="362.66" width="13" height="14.75" fill="#3de320" stroke="#fff" stroke-opacity="0.75" stroke-width="0.7"/>
<rect x="448.3" y="362.66" width="13" height="14.75" fill="#2ed65a" stroke="#fff" stroke-opacity="0.75" stroke-width="0.7"/>
<rect x="461.3" y="362.66" width="13" height="14.75" fill="#5de24b" stroke="#fff" stroke-opacity="0.75" stroke-width="0.7"/>
<rect x="474.3" y="362.66" width="13" height="14.75" fill="#2b4ec4" stroke="#fff" stroke-opacity="0.75" stroke-width="0.7"/>
<rect x="487.3" y="362.66" width="13" height="14.75" fill="#22beb2" stroke="#fff" stroke-opacity="0.75" stroke-width="0.7"/>
<rect x="500.3" y="362.66" width="13" height="14.75" fill="#2b4ec4" stroke="#fff" stroke-opacity="0.75" stroke-width="0.7"/>
<rect x="513.3" y="362.66" width="13" height="14.75" fill="#4775f7" stroke="#fff" stroke-opacity="0.75" stroke-width="0.7"/>
<rect x="526.31" y="362.66" width="13" height="14.75" fill="#2b4ec4" stroke="#fff" stroke-opacity="0.75" stroke-width="0.7"/>
<rect x="539.31" y="362.66" width="13" height="14.75" fill="#4775f7" stroke="#fff" stroke-opacity="0.75" stroke-width="0.7"/>
<rect x="552.31" y="362.66" width="13" height="14.75" fill="#2b4ec4" stroke="#fff" stroke-opacity="0.75" stroke-width="0.7"/>
<rect x="565.31" y="362.66" width="13" height="14.75" fill="#07a2b3" stroke="#fff" stroke-opacity="0.75" stroke-width="0.7"/>
<rect x="578.31" y="362.66" width="13" height="14.75" fill="#2b4ec4" stroke="#fff" stroke-opacity="0.75" stroke-width="0.7"/>
<rect x="591.31" y="362.66" width="13" height="14.75" fill="#16aeb2" stroke="#fff" stroke-opacity="0.75" stroke-width="0.7"/>
<rect x="604.32" y="362.66" width="13" height="14.75" fill="#2b4ec4" stroke="#fff" stroke-opacity="0.75" stroke-width="0.7"/>
<rect x="617.32" y="362.66" width="13" height="14.75" fill="#07a2b3" stroke="#fff" stroke-opacity="0.75" stroke-width="0.7"/>
<rect x="630.32" y="362.66" width="13" height="14.75" fill="#2b4ec4" stroke="#fff" stroke-opacity="0.75" stroke-width="0.7"/>
<rect x="643.32" y="362.66" width="13" height="14.75" fill="#2b4ec4" stroke="#fff" stroke-opacity="0.75" stroke-width="0.7"/>
<rect x="305.28" y="347.91" width="13" height="14.75" fill="#2b4ec4" stroke="#fff" stroke-opacity="0.75" stroke-width="0.7"/>
<rect x="318.28" y="347.91" width="13" height="14.75" fill="#2b4ec4" stroke="#fff" stroke-opacity="0.75" stroke-width="0.7"/>
<rect x="331.28" y="347.91" width="13" height="14.75" fill="#2b4ec4" stroke="#fff" stroke-opacity="0.75" stroke-width="0.7"/>
<rect x="344.28" y="347.91" width="13" height="14.75" fill="#2b4ec4" stroke="#fff" stroke-opacity="0.75" stroke-width="0.7"/>
<rect x="357.28" y="347.91" width="13" height="14.75" fill="#2b4ec4" stroke="#fff" stroke-opacity="0.75" stroke-width="0.7"/>
<rect x="370.29" y="347.91" width="13" height="14.75" fill="#2a57d8" stroke="#fff" stroke-opacity="0.75" stroke-width="0.7"/>
<rect x="383.29" y="347.91" width="13" height="14.75" fill="#07a2b3" stroke="#fff" stroke-opacity="0.75" stroke-width="0.7"/>
<rect x="396.29" y="347.91" width="13" height="14.75" fill="#07a2b3" stroke="#fff" stroke-opacity="0.75" stroke-width="0.7"/>
<rect x="409.29" y="347.91" width="13" height="14.75" fill="#22beb2" stroke="#fff" stroke-opacity="0.75" stroke-width="0.7"/>
<rect x="422.29" y="347.91" width="13" height="14.75" fill="#22beb2" stroke="#fff" stroke-opacity="0.75" stroke-width="0.7"/>
<rect x="435.29" y="347.91" width="13" height="14.75" fill="#2ed65a" stroke="#fff" stroke-opacity="0.75" stroke-width="0.7"/>
<rect x="448.3" y="347.91" width="13" height="14.75" fill="#44c184" stroke="#fff" stroke-opacity="0.75" stroke-width="0.7"/>
<rect x="461.3" y="347.91" width="13" height="14.75" fill="#3de320" stroke="#fff" stroke-opacity="0.75" stroke-width="0.7"/>
<rect x="474.3" y="347.91" width="13" height="14.75" fill="#2b4ec4" stroke="#fff" stroke-opacity="0.75" stroke-width="0.7"/>
<rect x="487.3" y="347.91" width="13" height="14.75" fill="#07a2b3" stroke="#fff" stroke-opacity="0.75" stroke-width="0.7"/>
<rect x="500.3" y="347.91" width="13" height="14.75" fill="#2b4ec4" stroke="#fff" stroke-opacity="0.75" stroke-width="0.7"/>
<rect x="513.3" y="347.91" width="13" height="14.75" fill="#2a57d8" stroke="#fff" stroke-opacity="0.75" stroke-width="0.7"/>
<rect x="526.31" y="347.91" width="13" height="14.75" fill="#2b4ec4" stroke="#fff" stroke-opacity="0.75" stroke-width="0.7"/>
<rect x="539.31" y="347.91" width="13" height="14.75" fill="#2f66f6" stroke="#fff" stroke-opacity="0.75" stroke-width="0.7"/>
<rect x="552.31" y="347.91" width="13" height="14.75" fill="#2b4ec4" stroke="#fff" stroke-opacity="0.75" stroke-width="0.7"/>
<rect x="565.31" y="347.91" width="13" height="14.75" fill="#16aeb2" stroke="#fff" stroke-opacity="0.75" stroke-width="0.7"/>
<rect x="578.31" y="347.91" width="13" height="14.75" fill="#2b4ec4" stroke="#fff" stroke-opacity="0.75" stroke-width="0.7"/>
<rect x="591.31" y="347.91" width="13" height="14.75" fill="#07a2b3" stroke="#fff" stroke-opacity="0.75" stroke-width="0.7"/>
<rect x="604.32" y="347.91" width="13" height="14.75" fill="#2b4ec4" stroke="#fff" stroke-opacity="0.75" stroke-width="0.7"/>
<rect x="617.32" y="347.91" width="13" height="14.75" fill="#07a2b3" stroke="#fff" stroke-opacity="0.75" stroke-width="0.7"/>
<rect x="630.32" y="347.91" width="13" height="14.75" fill="#2b4ec4" stroke="#fff" stroke-opacity="0.75" stroke-width="0.7"/>
<rect x="643.32" y="347.91" width="13" height="14.75" fill="#07a2b3" stroke="#fff" stroke-opacity="0.75" stroke-width="0.7"/>
<rect x="669.32" y="347.91" width="13" height="14.75" fill="#2f66f6" stroke="#fff" stroke-opacity="0.75" stroke-width="0.7"/>
<rect x="344.28" y="333.15" width="13" height="14.75" fill="#2b4ec4" stroke="#fff" stroke-opacity="0.75" stroke-width="0.7"/>
<rect x="357.28" y="333.15" width="13" height="14.75" fill="#2b4ec4" stroke="#fff" stroke-opacity="0.75" stroke-width="0.7"/>
<rect x="370.29" y="333.15" width="13" height="14.75" fill="#2b4ec4" stroke="#fff" stroke-opacity="0.75" stroke-width="0.7"/>
<rect x="383.29" y="333.15" width="13" height="14.75" fill="#2b4ec4" stroke="#fff" stroke-opacity="0.75" stroke-width="0.7"/>
<rect x="396.29" y="333.15" width="13" height="14.75" fill="#2b4ec4" stroke="#fff" stroke-opacity="0.75" stroke-width="0.7"/>
<rect x="409.29" y="333.15" width="13" height="14.75" fill="#2f66f6" stroke="#fff" stroke-opacity="0.75" stroke-width="0.7"/>
<rect x="422.29" y="333.15" width="13" height="14.75" fill="#2a57d8" stroke="#fff" stroke-opacity="0.75" stroke-width="0.7"/>
<rect x="435.29" y="333.15" width="13" height="14.75" fill="#4775f7" stroke="#fff" stroke-opacity="0.75" stroke-width="0.7"/>
<rect x="448.3" y="333.15" width="13" height="14.75" fill="#07a2b3" stroke="#fff" stroke-opacity="0.75" stroke-width="0.7"/>
<rect x="461.3" y="333.15" width="13" height="14.75" fill="#16aeb2" stroke="#fff" stroke-opacity="0.75" stroke-width="0.7"/>
<rect x="474.3" y="333.15" width="13" height="14.75" fill="#2b4ec4" stroke="#fff" stroke-opacity="0.75" stroke-width="0.7"/>
<rect x="487.3" y="333.15" width="13" height="14.75" fill="#2a57d8" stroke="#fff" stroke-opacity="0.75" stroke-width="0.7"/>
<rect x="500.3" y="333.15" width="13" height="14.75" fill="#2b4ec4" stroke="#fff" stroke-opacity="0.75" stroke-width="0.7"/>
<rect x="513.3" y="333.15" width="13" height="14.75" fill="#2b4ec4" stroke="#fff" stroke-opacity="0.75" stroke-width="0.7"/>
<rect x="526.31" y="333.15" width="13" height="14.75" fill="#2b4ec4" stroke="#fff" stroke-opacity="0.75" stroke-width="0.7"/>
<rect x="539.31" y="333.15" width="13" height="14.75" fill="#2b4ec4" stroke="#fff" stroke-opacity="0.75" stroke-width="0.7"/>
<rect x="552.31" y="333.15" width="13" height="14.75" fill="#2b4ec4" stroke="#fff" stroke-opacity="0.75" stroke-width="0.7"/>
<rect x="565.31" y="333.15" width="13" height="14.75" fill="#2a57d8" stroke="#fff" stroke-opacity="0.75" stroke-width="0.7"/>
<rect x="578.31" y="333.15" width="13" height="14.75" fill="#2b4ec4" stroke="#fff" stroke-opacity="0.75" stroke-width="0.7"/>
<rect x="591.31" y="333.15" width="13" height="14.75" fill="#4775f7" stroke="#fff" stroke-opacity="0.75" stroke-width="0.7"/>
<rect x="604.32" y="333.15" width="13" height="14.75" fill="#2b4ec4" stroke="#fff" stroke-opacity="0.75" stroke-width="0.7"/>
<rect x="617.32" y="333.15" width="13" height="14.75" fill="#07a2b3" stroke="#fff" stroke-opacity="0.75" stroke-width="0.7"/>
<rect x="630.32" y="333.15" width="13" height="14.75" fill="#2b4ec4" stroke="#fff" stroke-opacity="0.75" stroke-width="0.7"/>
<rect x="643.32" y="333.15" width="13" height="14.75" fill="#4775f7" stroke="#fff" stroke-opacity="0.75" stroke-width="0.7"/>
<rect x="656.32" y="333.15" width="13" height="14.75" fill="#2b4ec4" stroke="#fff" stroke-opacity="0.75" stroke-width="0.7"/>
<rect x="669.32" y="333.15" width="13" height="14.75" fill="#4775f7" stroke="#fff" stroke-opacity="0.75" stroke-width="0.7"/>
<rect x="682.33" y="333.15" width="13" height="14.75" fill="#2b4ec4" stroke="#fff" stroke-opacity="0.75" stroke-width="0.7"/>
<rect x="695.33" y="333.15" width="13" height="14.75" fill="#2b4ec4" stroke="#fff" stroke-opacity="0.75" stroke-width="0.7"/>
<rect x="357.28" y="318.4" width="13" height="14.75" fill="#2b4ec4" stroke="#fff" stroke-opacity="0.75" stroke-width="0.7"/>
<rect x="370.29" y="318.4" width="13" height="14.75" fill="#2b4ec4" stroke="#fff" stroke-opacity="0.75" stroke-width="0.7"/>
<rect x="383.29" y="318.4" width="13" height="14.75" fill="#2b4ec4" stroke="#fff" stroke-opacity="0.75" stroke-width="0.7"/>
<rect x="396.29" y="318.4" width="13" height="14.75" fill="#2b4ec4" stroke="#fff" stroke-opacity="0.75" stroke-width="0.7"/>
<rect x="409.29" y="318.4" width="13" height="14.75" fill="#2b4ec4" stroke="#fff" stroke-opacity="0.75" stroke-width="0.7"/>
<rect x="422.29" y="318.4" width="13" height="14.75" fill="#2b4ec4" stroke="#fff" stroke-opacity="0.75" stroke-width="0.7"/>
<rect x="435.29" y="318.4" width="13" height="14.75" fill="#2b4ec4" stroke="#fff" stroke-opacity="0.75" stroke-width="0.7"/>
<rect x="448.3" y="318.4" width="13" height="14.75" fill="#2a57d8" stroke="#fff" stroke-opacity="0.75" stroke-width="0.7"/>
<rect x="461.3" y="318.4" width="13" height="14.75" fill="#2f66f6" stroke="#fff" stroke-opacity="0.75" stroke-width="0.7"/>
<rect x="474.3" y="318.4" width="13" height="14.75" fill="#2b4ec4" stroke="#fff" stroke-opacity="0.75" stroke-width="0.7"/>
<rect x="487.3" y="318.4" width="13" height="14.75" fill="#2b4ec4" stroke="#fff" stroke-opacity="0.75" stroke-width="0.7"/>
<rect x="500.3" y="318.4" width="13" height="14.75" fill="#2b4ec4" stroke="#fff" stroke-opacity="0.75" stroke-width="0.7"/>
<rect x="513.3" y="318.4" width="13" height="14.75" fill="#2b4ec4" stroke="#fff" stroke-opacity="0.75" stroke-width="0.7"/>
<rect x="539.31" y="318.4" width="13" height="14.75" fill="#2b4ec4" stroke="#fff" stroke-opacity="0.75" stroke-width="0.7"/>
<rect x="552.31" y="318.4" width="13" height="14.75" fill="#2b4ec4" stroke="#fff" stroke-opacity="0.75" stroke-width="0.7"/>
<rect x="565.31" y="318.4" width="13" height="14.75" fill="#2f66f6" stroke="#fff" stroke-opacity="0.75" stroke-width="0.7"/>
<rect x="578.31" y="318.4" width="13" height="14.75" fill="#2b4ec4" stroke="#fff" stroke-opacity="0.75" stroke-width="0.7"/>
<rect x="591.31" y="318.4" width="13" height="14.75" fill="#4775f7" stroke="#fff" stroke-opacity="0.75" stroke-width="0.7"/>
<rect x="604.32" y="318.4" width="13" height="14.75" fill="#2b4ec4" stroke="#fff" stroke-opacity="0.75" stroke-width="0.7"/>
<rect x="617.32" y="318.4" width="13" height="14.75" fill="#07a2b3" stroke="#fff" stroke-opacity="0.75" stroke-width="0.7"/>
<rect x="630.32" y="318.4" width="13" height="14.75" fill="#2b4ec4" stroke="#fff" stroke-opacity="0.75" stroke-width="0.7"/>
<rect x="643.32" y="318.4" width="13" height="14.75" fill="#2f66f6" stroke="#fff" stroke-opacity="0.75" stroke-width="0.7"/>
<rect x="656.32" y="318.4" width="13" height="14.75" fill="#2b4ec4" stroke="#fff" stroke-opacity="0.75" stroke-width="0.7"/>
<rect x="669.32" y="318.4" width="13" height="14.75" fill="#2f66f6" stroke="#fff" stroke-opacity="0.75" stroke-width="0.7"/>
<rect x="682.33" y="318.4" width="13" height="14.75" fill="#2b4ec4" stroke="#fff" stroke-opacity="0.75" stroke-width="0.7"/>
<rect x="695.33" y="318.4" width="13" height="14.75" fill="#2b4ec4" stroke="#fff" stroke-opacity="0.75" stroke-width="0.7"/>
<rect x="409.29" y="303.64" width="13" height="14.75" fill="#2b4ec4" stroke="#fff" stroke-opacity="0.75" stroke-width="0.7"/>
<rect x="422.29" y="303.64" width="13" height="14.75" fill="#2b4ec4" stroke="#fff" stroke-opacity="0.75" stroke-width="0.7"/>
<rect x="435.29" y="303.64" width="13" height="14.75" fill="#2b4ec4" stroke="#fff" stroke-opacity="0.75" stroke-width="0.7"/>
<rect x="448.3" y="303.64" width="13" height="14.75" fill="#2b4ec4" stroke="#fff" stroke-opacity="0.75" stroke-width="0.7"/>
<rect x="461.3" y="303.64" width="13" height="14.75" fill="#2b4ec4" stroke="#fff" stroke-opacity="0.75" stroke-width="0.7"/>
<rect x="487.3" y="303.64" width="13" height="14.75" fill="#2b4ec4" stroke="#fff" stroke-opacity="0.75" stroke-width="0.7"/>
<rect x="539.31" y="303.64" width="13" height="14.75" fill="#2b4ec4" stroke="#fff" stroke-opacity="0.75" stroke-width="0.7"/>
<rect x="552.31" y="303.64" width="13" height="14.75" fill="#2b4ec4" stroke="#fff" stroke-opacity="0.75" stroke-width="0.7"/>
<rect x="565.31" y="303.64" width="13" height="14.75" fill="#2b4ec4" stroke="#fff" stroke-opacity="0.75" stroke-width="0.7"/>
<rect x="578.31" y="303.64" width="13" height="14.75" fill="#2b4ec4" stroke="#fff" stroke-opacity="0.75" stroke-width="0.7"/>
<rect x="591.31" y="303.64" width="13" height="14.75" fill="#2f66f6" stroke="#fff" stroke-opacity="0.75" stroke-width="0.7"/>
<rect x="604.32" y="303.64" width="13" height="14.75" fill="#2b4ec4" stroke="#fff" stroke-opacity="0.75" stroke-width="0.7"/>
<rect x="617.32" y="303.64" width="13" height="14.75" fill="#2f66f6" stroke="#fff" stroke-opacity="0.75" stroke-width="0.7"/>
<rect x="630.32" y="303.64" width="13" height="14.75" fill="#2b4ec4" stroke="#fff" stroke-opacity="0.75" stroke-width="0.7"/>
<rect x="643.32" y="303.64" width="13" height="14.75" fill="#4775f7" stroke="#fff" stroke-opacity="0.75" stroke-width="0.7"/>
<rect x="656.32" y="303.64" width="13" height="14.75" fill="#2b4ec4" stroke="#fff" stroke-opacity="0.75" stroke-width="0.7"/>
<rect x="669.32" y="303.64" width="13" height="14.75" fill="#07a2b3" stroke="#fff" stroke-opacity="0.75" stroke-width="0.7"/>
<rect x="682.33" y="303.64" width="13" height="14.75" fill="#2b4ec4" stroke="#fff" stroke-opacity="0.75" stroke-width="0.7"/>
<rect x="695.33" y="303.64" width="13" height="14.75" fill="#2a57d8" stroke="#fff" stroke-opacity="0.75" stroke-width="0.7"/>
<rect x="708.33" y="303.64" width="13" height="14.75" fill="#2b4ec4" stroke="#fff" stroke-opacity="0.75" stroke-width="0.7"/>
<rect x="721.33" y="303.64" width="13" height="14.75" fill="#2b4ec4" stroke="#fff" stroke-opacity="0.75" stroke-width="0.7"/>
<rect x="539.31" y="288.89" width="13" height="14.75" fill="#2b4ec4" stroke="#fff" stroke-opacity="0.75" stroke-width="0.7"/>
<rect x="552.31" y="288.89" width="13" height="14.75" fill="#2b4ec4" stroke="#fff" stroke-opacity="0.75" stroke-width="0.7"/>
<rect x="565.31" y="288.89" width="13" height="14.75" fill="#2b4ec4" stroke="#fff" stroke-opacity="0.75" stroke-width="0.7"/>
<rect x="578.31" y="288.89" width="13" height="14.75" fill="#2b4ec4" stroke="#fff" stroke-opacity="0.75" stroke-width="0.7"/>
<rect x="591.31" y="288.89" width="13" height="14.75" fill="#2f66f6" stroke="#fff" stroke-opacity="0.75" stroke-width="0.7"/>
<rect x="604.32" y="288.89" width="13" height="14.75" fill="#2b4ec4" stroke="#fff" stroke-opacity="0.75" stroke-width="0.7"/>
<rect x="617.32" y="288.89" width="13" height="14.75" fill="#4775f7" stroke="#fff" stroke-opacity="0.75" stroke-width="0.7"/>
<rect x="630.32" y="288.89" width="13" height="14.75" fill="#2b4ec4" stroke="#fff" stroke-opacity="0.75" stroke-width="0.7"/>
<rect x="643.32" y="288.89" width="13" height="14.75" fill="#2f66f6" stroke="#fff" stroke-opacity="0.75" stroke-width="0.7"/>
<rect x="656.32" y="288.89" width="13" height="14.75" fill="#2b4ec4" stroke="#fff" stroke-opacity="0.75" stroke-width="0.7"/>
<rect x="669.32" y="288.89" width="13" height="14.75" fill="#2f66f6" stroke="#fff" stroke-opacity="0.75" stroke-width="0.7"/>
<rect x="682.33" y="288.89" width="13" height="14.75" fill="#2b4ec4" stroke="#fff" stroke-opacity="0.75" stroke-width="0.7"/>
<rect x="695.33" y="288.89" width="13" height="14.75" fill="#4775f7" stroke="#fff" stroke-opacity="0.75" stroke-width="0.7"/>
<rect x="708.33" y="288.89" width="13" height="14.75" fill="#2b4ec4" stroke="#fff" stroke-opacity="0.75" stroke-width="0.7"/>
<rect x="721.33" y="288.89" width="13" height="14.75" fill="#2a57d8" stroke="#fff" stroke-opacity="0.75" stroke-width="0.7"/>
<rect x="565.31" y="274.13" width="13" height="14.75" fill="#2b4ec4" stroke="#fff" stroke-opacity="0.75" stroke-width="0.7"/>
<rect x="578.31" y="274.13" width="13" height="14.75" fill="#2b4ec4" stroke="#fff" stroke-opacity="0.75" stroke-width="0.7"/>
<rect x="591.31" y="274.13" width="13" height="14.75" fill="#2b4ec4" stroke="#fff" stroke-opacity="0.75" stroke-width="0.7"/>
<rect x="604.32" y="274.13" width="13" height="14.75" fill="#2b4ec4" stroke="#fff" stroke-opacity="0.75" stroke-width="0.7"/>
<rect x="617.32" y="274.13" width="13" height="14.75" fill="#2b4ec4" stroke="#fff" stroke-opacity="0.75" stroke-width="0.7"/>
<rect x="630.32" y="274.13" width="13" height="14.75" fill="#2b4ec4" stroke="#fff" stroke-opacity="0.75" stroke-width="0.7"/>
<rect x="643.32" y="274.13" width="13" height="14.75" fill="#2b4ec4" stroke="#fff" stroke-opacity="0.75" stroke-width="0.7"/>
<rect x="656.32" y="274.13" width="13" height="14.75" fill="#2b4ec4" stroke="#fff" stroke-opacity="0.75" stroke-width="0.7"/>
<rect x="669.32" y="274.13" width="13" height="14.75" fill="#2f66f6" stroke="#fff" stroke-opacity="0.75" stroke-width="0.7"/>
<rect x="682.33" y="274.13" width="13" height="14.75" fill="#2b4ec4" stroke="#fff" stroke-opacity="0.75" stroke-width="0.7"/>
<rect x="695.33" y="274.13" width="13" height="14.75" fill="#07a2b3" stroke="#fff" stroke-opacity="0.75" stroke-width="0.7"/>
<rect x="708.33" y="274.13" width="13" height="14.75" fill="#2b4ec4" stroke="#fff" stroke-opacity="0.75" stroke-width="0.7"/>
<rect x="721.33" y="274.13" width="13" height="14.75" fill="#2b4ec4" stroke="#fff" stroke-opacity="0.75" stroke-width="0.7"/>
<rect x="747.33" y="274.13" width="13" height="14.75" fill="#2b4ec4" stroke="#fff" stroke-opacity="0.75" stroke-width="0.7"/>
<rect x="565.31" y="259.38" width="13" height="14.75" fill="#2b4ec4" stroke="#fff" stroke-opacity="0.75" stroke-width="0.7"/>
<rect x="591.31" y="259.38" width="13" height="14.75" fill="#2b4ec4" stroke="#fff" stroke-opacity="0.75" stroke-width="0.7"/>
<rect x="604.32" y="259.38" width="13" height="14.75" fill="#2b4ec4" stroke="#fff" stroke-opacity="0.75" stroke-width="0.7"/>
<rect x="617.32" y="259.38" width="13" height="14.75" fill="#2b4ec4" stroke="#fff" stroke-opacity="0.75" stroke-width="0.7"/>
<rect x="630.32" y="259.38" width="13" height="14.75" fill="#2b4ec4" stroke="#fff" stroke-opacity="0.75" stroke-width="0.7"/>
<rect x="643.32" y="259.38" width="13" height="14.75" fill="#2b4ec4" stroke="#fff" stroke-opacity="0.75" stroke-width="0.7"/>
<rect x="656.32" y="259.38" width="13" height="14.75" fill="#2b4ec4" stroke="#fff" stroke-opacity="0.75" stroke-width="0.7"/>
<rect x="669.32" y="259.38" width="13" height="14.75" fill="#2f66f6" stroke="#fff" stroke-opacity="0.75" stroke-width="0.7"/>
<rect x="682.33" y="259.38" width="13" height="14.75" fill="#2b4ec4" stroke="#fff" stroke-opacity="0.75" stroke-width="0.7"/>
<rect x="695.33" y="259.38" width="13" height="14.75" fill="#2f66f6" stroke="#fff" stroke-opacity="0.75" stroke-width="0.7"/>
<rect x="708.33" y="259.38" width="13" height="14.75" fill="#2b4ec4" stroke="#fff" stroke-opacity="0.75" stroke-width="0.7"/>
<rect x="721.33" y="259.38" width="13" height="14.75" fill="#2f66f6" stroke="#fff" stroke-opacity="0.75" stroke-width="0.7"/>
<rect x="734.33" y="259.38" width="13" height="14.75" fill="#2b4ec4" stroke="#fff" stroke-opacity="0.75" stroke-width="0.7"/>
<rect x="747.33" y="259.38" width="13" height="14.75" fill="#2a57d8" stroke="#fff" stroke-opacity="0.75" stroke-width="0.7"/>
<rect x="760.34" y="259.38" width="13" height="14.75" fill="#2b4ec4" stroke="#fff" stroke-opacity="0.75" stroke-width="0.7"/>
<rect x="773.34" y="259.38" width="13" height="14.75" fill="#2a57d8" stroke="#fff" stroke-opacity="0.75" stroke-width="0.7"/>
<rect x="799.34" y="259.38" width="13" height="14.75" fill="#2b4ec4" stroke="#fff" stroke-opacity="0.75" stroke-width="0.7"/>
<rect x="617.32" y="244.62" width="13" height="14.75" fill="#2b4ec4" stroke="#fff" stroke-opacity="0.75" stroke-width="0.7"/>
<rect x="630.32" y="244.62" width="13" height="14.75" fill="#2b4ec4" stroke="#fff" stroke-opacity="0.75" stroke-width="0.7"/>
<rect x="643.32" y="244.62" width="13" height="14.75" fill="#2b4ec4" stroke="#fff" stroke-opacity="0.75" stroke-width="0.7"/>
<rect x="656.32" y="244.62" width="13" height="14.75" fill="#2b4ec4" stroke="#fff" stroke-opacity="0.75" stroke-width="0.7"/>
<rect x="669.32" y="244.62" width="13" height="14.75" fill="#2b4ec4" stroke="#fff" stroke-opacity="0.75" stroke-width="0.7"/>
<rect x="682.33" y="244.62" width="13" height="14.75" fill="#2b4ec4" stroke="#fff" stroke-opacity="0.75" stroke-width="0.7"/>
<rect x="695.33" y="244.62" width="13" height="14.75" fill="#2a57d8" stroke="#fff" stroke-opacity="0.75" stroke-width="0.7"/>
<rect x="708.33" y="244.62" width="13" height="14.75" fill="#2b4ec4" stroke="#fff" stroke-opacity="0.75" stroke-width="0.7"/>
<rect x="721.33" y="244.62" width="13" height="14.75" fill="#2f66f6" stroke="#fff" stroke-opacity="0.75" stroke-width="0.7"/>
<rect x="734.33" y="244.62" width="13" height="14.75" fill="#2b4ec4" stroke="#fff" stroke-opacity="0.75" stroke-width="0.7"/>
<rect x="747.33" y="244.62" width="13" height="14.75" fill="#2a57d8" stroke="#fff" stroke-opacity="0.75" stroke-width="0.7"/>
<rect x="760.34" y="244.62" width="13" height="14.75" fill="#2b4ec4" stroke="#fff" stroke-opacity="0.75" stroke-width="0.7"/>
<rect x="773.34" y="244.62" width="13" height="14.75" fill="#2b4ec4" stroke="#fff" stroke-opacity="0.75" stroke-width="0.7"/>
<rect x="799.34" y="244.62" width="13" height="14.75" fill="#2b4ec4" stroke="#fff" stroke-opacity="0.75" stroke-width="0.7"/>
<rect x="617.32" y="229.87" width="13" height="14.75" fill="#2b4ec4" stroke="#fff" stroke-opacity="0.75" stroke-width="0.7"/>
<rect x="630.32" y="229.87" width="13" height="14.75" fill="#2b4ec4" stroke="#fff" stroke-opacity="0.75" stroke-width="0.7"/>
<rect x="643.32" y="229.87" width="13" height="14.75" fill="#2b4ec4" stroke="#fff" stroke-opacity="0.75" stroke-width="0.7"/>
<rect x="656.32" y="229.87" width="13" height="14.75" fill="#2b4ec4" stroke="#fff" stroke-opacity="0.75" stroke-width="0.7"/>
<rect x="669.32" y="229.87" width="13" height="14.75" fill="#2b4ec4" stroke="#fff" stroke-opacity="0.75" stroke-width="0.7"/>
<rect x="682.33" y="229.87" width="13" height="14.75" fill="#2b4ec4" stroke="#fff" stroke-opacity="0.75" stroke-width="0.7"/>
<rect x="695.33" y="229.87" width="13" height="14.75" fill="#2b4ec4" stroke="#fff" stroke-opacity="0.75" stroke-width="0.7"/>
<rect x="708.33" y="229.87" width="13" height="14.75" fill="#2b4ec4" stroke="#fff" stroke-opacity="0.75" stroke-width="0.7"/>
<rect x="721.33" y="229.87" width="13" height="14.75" fill="#2b4ec4" stroke="#fff" stroke-opacity="0.75" stroke-width="0.7"/>
<rect x="734.33" y="229.87" width="13" height="14.75" fill="#2b4ec4" stroke="#fff" stroke-opacity="0.75" stroke-width="0.7"/>
<rect x="747.33" y="229.87" width="13" height="14.75" fill="#2b4ec4" stroke="#fff" stroke-opacity="0.75" stroke-width="0.7"/>
<rect x="760.34" y="229.87" width="13" height="14.75" fill="#2b4ec4" stroke="#fff" stroke-opacity="0.75" stroke-width="0.7"/>
<rect x="773.34" y="229.87" width="13" height="14.75" fill="#2b4ec4" stroke="#fff" stroke-opacity="0.75" stroke-width="0.7"/>
<rect x="786.34" y="229.87" width="13" height="14.75" fill="#2b4ec4" stroke="#fff" stroke-opacity="0.75" stroke-width="0.7"/>
<rect x="799.34" y="229.87" width="13" height="14.75" fill="#2b4ec4" stroke="#fff" stroke-opacity="0.75" stroke-width="0.7"/>
<rect x="812.34" y="229.87" width="13" height="14.75" fill="#2b4ec4" stroke="#fff" stroke-opacity="0.75" stroke-width="0.7"/>
<rect x="825.34" y="229.87" width="13" height="14.75" fill="#2b4ec4" stroke="#fff" stroke-opacity="0.75" stroke-width="0.7"/>
<rect x="851.35" y="229.87" width="13" height="14.75" fill="#2b4ec4" stroke="#fff" stroke-opacity="0.75" stroke-width="0.7"/>
<rect x="643.32" y="215.11" width="13" height="14.75" fill="#2b4ec4" stroke="#fff" stroke-opacity="0.75" stroke-width="0.7"/>
<rect x="656.32" y="215.11" width="13" height="14.75" fill="#2b4ec4" stroke="#fff" stroke-opacity="0.75" stroke-width="0.7"/>
<rect x="669.32" y="215.11" width="13" height="14.75" fill="#2b4ec4" stroke="#fff" stroke-opacity="0.75" stroke-width="0.7"/>
<rect x="682.33" y="215.11" width="13" height="14.75" fill="#2b4ec4" stroke="#fff" stroke-opacity="0.75" stroke-width="0.7"/>
<rect x="695.33" y="215.11" width="13" height="14.75" fill="#2b4ec4" stroke="#fff" stroke-opacity="0.75" stroke-width="0.7"/>
<rect x="708.33" y="215.11" width="13" height="14.75" fill="#2b4ec4" stroke="#fff" stroke-opacity="0.75" stroke-width="0.7"/>
<rect x="721.33" y="215.11" width="13" height="14.75" fill="#2b4ec4" stroke="#fff" stroke-opacity="0.75" stroke-width="0.7"/>
<rect x="734.33" y="215.11" width="13" height="14.75" fill="#2b4ec4" stroke="#fff" stroke-opacity="0.75" stroke-width="0.7"/>
<rect x="747.33" y="215.11" width="13" height="14.75" fill="#2b4ec4" stroke="#fff" stroke-opacity="0.75" stroke-width="0.7"/>
<rect x="760.34" y="215.11" width="13" height="14.75" fill="#2b4ec4" stroke="#fff" stroke-opacity="0.75" stroke-width="0.7"/>
<rect x="773.34" y="215.11" width="13" height="14.75" fill="#2b4ec4" stroke="#fff" stroke-opacity="0.75" stroke-width="0.7"/>
<rect x="786.34" y="215.11" width="13" height="14.75" fill="#2b4ec4" stroke="#fff" stroke-opacity="0.75" stroke-width="0.7"/>
<rect x="799.34" y="215.11" width="13" height="14.75" fill="#2b4ec4" stroke="#fff" stroke-opacity="0.75" stroke-width="0.7"/>
<rect x="812.34" y="215.11" width="13" height="14.75" fill="#2b4ec4" stroke="#fff" stroke-opacity="0.75" stroke-width="0.7"/>
<rect x="825.34" y="215.11" width="13" height="14.75" fill="#2b4ec4" stroke="#fff" stroke-opacity="0.75" stroke-width="0.7"/>
<rect x="838.35" y="215.11" width="13" height="14.75" fill="#2b4ec4" stroke="#fff" stroke-opacity="0.75" stroke-width="0.7"/>
<rect x="851.35" y="215.11" width="13" height="14.75" fill="#2b4ec4" stroke="#fff" stroke-opacity="0.75" stroke-width="0.7"/>
<rect x="669.32" y="200.36" width="13" height="14.75" fill="#2b4ec4" stroke="#fff" stroke-opacity="0.75" stroke-width="0.7"/>
<rect x="682.33" y="200.36" width="13" height="14.75" fill="#2b4ec4" stroke="#fff" stroke-opacity="0.75" stroke-width="0.7"/>
<rect x="695.33" y="200.36" width="13" height="14.75" fill="#2b4ec4" stroke="#fff" stroke-opacity="0.75" stroke-width="0.7"/>
<rect x="708.33" y="200.36" width="13" height="14.75" fill="#2b4ec4" stroke="#fff" stroke-opacity="0.75" stroke-width="0.7"/>
<rect x="721.33" y="200.36" width="13" height="14.75" fill="#2b4ec4" stroke="#fff" stroke-opacity="0.75" stroke-width="0.7"/>
<rect x="734.33" y="200.36" width="13" height="14.75" fill="#2b4ec4" stroke="#fff" stroke-opacity="0.75" stroke-width="0.7"/>
<rect x="747.33" y="200.36" width="13" height="14.75" fill="#2b4ec4" stroke="#fff" stroke-opacity="0.75" stroke-width="0.7"/>
<rect x="760.34" y="200.36" width="13" height="14.75" fill="#2b4ec4" stroke="#fff" stroke-opacity="0.75" stroke-width="0.7"/>
<rect x="773.34" y="200.36" width="13" height="14.75" fill="#2b4ec4" stroke="#fff" stroke-opacity="0.75" stroke-width="0.7"/>
<rect x="786.34" y="200.36" width="13" height="14.75" fill="#2b4ec4" stroke="#fff" stroke-opacity="0.75" stroke-width="0.7"/>
<rect x="799.34" y="200.36" width="13" height="14.75" fill="#2b4ec4" stroke="#fff" stroke-opacity="0.75" stroke-width="0.7"/>
<rect x="812.34" y="200.36" width="13" height="14.75" fill="#2b4ec4" stroke="#fff" stroke-opacity="0.75" stroke-width="0.7"/>
<rect x="825.34" y="200.36" width="13" height="14.75" fill="#2b4ec4" stroke="#fff" stroke-opacity="0.75" stroke-width="0.7"/>
<rect x="838.35" y="200.36" width="13" height="14.75" fill="#2b4ec4" stroke="#fff" stroke-opacity="0.75" stroke-width="0.7"/>
<rect x="851.35" y="200.36" width="13" height="14.75" fill="#2b4ec4" stroke="#fff" stroke-opacity="0.75" stroke-width="0.7"/>
<rect x="747.33" y="185.6" width="13" height="14.75" fill="#2b4ec4" stroke="#fff" stroke-opacity="0.75" stroke-width="0.7"/>
<rect x="773.34" y="185.6" width="13" height="14.75" fill="#2b4ec4" stroke="#fff" stroke-opacity="0.75" stroke-width="0.7"/>
<rect x="786.34" y="185.6" width="13" height="14.75" fill="#2b4ec4" stroke="#fff" stroke-opacity="0.75" stroke-width="0.7"/>
<rect x="799.34" y="185.6" width="13" height="14.75" fill="#2b4ec4" stroke="#fff" stroke-opacity="0.75" stroke-width="0.7"/>
<rect x="812.34" y="185.6" width="13" height="14.75" fill="#2b4ec4" stroke="#fff" stroke-opacity="0.75" stroke-width="0.7"/>
<rect x="825.34" y="185.6" width="13" height="14.75" fill="#2b4ec4" stroke="#fff" stroke-opacity="0.75" stroke-width="0.7"/>
<rect x="838.35" y="185.6" width="13" height="14.75" fill="#2b4ec4" stroke="#fff" stroke-opacity="0.75" stroke-width="0.7"/>
<rect x="851.35" y="185.6" width="13" height="14.75" fill="#2b4ec4" stroke="#fff" stroke-opacity="0.75" stroke-width="0.7"/>
<rect x="864.35" y="185.6" width="13" height="14.75" fill="#2b4ec4" stroke="#fff" stroke-opacity="0.75" stroke-width="0.7"/>
<rect x="799.34" y="170.85" width="13" height="14.75" fill="#2b4ec4" stroke="#fff" stroke-opacity="0.75" stroke-width="0.7"/>
<rect x="812.34" y="170.85" width="13" height="14.75" fill="#2b4ec4" stroke="#fff" stroke-opacity="0.75" stroke-width="0.7"/>
<rect x="825.34" y="170.85" width="13" height="14.75" fill="#2b4ec4" stroke="#fff" stroke-opacity="0.75" stroke-width="0.7"/>
<rect x="838.35" y="170.85" width="13" height="14.75" fill="#2b4ec4" stroke="#fff" stroke-opacity="0.75" stroke-width="0.7"/>
<rect x="851.35" y="170.85" width="13" height="14.75" fill="#2b4ec4" stroke="#fff" stroke-opacity="0.75" stroke-width="0.7"/>
<rect x="864.35" y="170.85" width="13" height="14.75" fill="#2b4ec4" stroke="#fff" stroke-opacity="0.75" stroke-width="0.7"/>
<rect x="825.34" y="156.09" width="13" height="14.75" fill="#2b4ec4" stroke="#fff" stroke-opacity="0.75" stroke-width="0.7"/>
<rect x="851.35" y="156.09" width="13" height="14.75" fill="#2b4ec4" stroke="#fff" stroke-opacity="0.75" stroke-width="0.7"/>
<line x1="461.3" x2="461.3" y1="23.3" y2="480.7" stroke="#bbbbbb" stroke-width="1.4"/>
<line x1="474.3" x2="474.3" y1="23.3" y2="480.7" stroke="#bbbbbb" stroke-width="1.4"/>
<line x1="84.25" x2="877.35" y1="126.58" y2="126.58" stroke="#bbbbbb" stroke-width="1.4"/>
<line x1="84.25" x2="877.35" y1="111.83" y2="111.83" stroke="#bbbbbb" stroke-width="1.4"/>
<path d="M266.27 318.4H331.28M344.28 318.4H357.28M396.29 318.4H409.29M461.3 318.4H487.3M604.32 318.4H617.32M266.27 303.64H279.27M292.28 303.64H305.28M318.28 303.64H331.28M344.28 303.64H357.28M383.29 303.64H422.29M461.3 303.64H487.3M617.32 303.64H630.32M188.26 377.42H201.26M240.27 377.42H292.28M500.3 377.42H513.3M526.31 377.42H578.31M188.26 362.66H201.26M240.27 362.66H292.28M305.28 362.66H318.28M487.3 362.66H500.3M591.31 362.66H604.32M240.27 392.17H266.27M279.27 392.17H305.28M513.3 392.17H526.31M240.27 347.91H292.28M305.28 347.91H331.28M370.29 347.91H383.29M487.3 347.91H500.3M578.31 347.91H604.32M240.27 333.15H253.27M266.27 333.15H331.28M370.29 333.15H383.29M461.3 333.15H474.3M487.3 333.15H500.3M591.31 333.15H604.32M253.27 421.68H266.27M240.27 406.93H266.27M383.29 288.89H396.29M409.29 288.89H422.29M461.3 288.89H487.3M630.32 288.89H643.32M422.29 259.38H435.29M474.3 259.38H487.3M513.3 259.38H526.31M630.32 259.38H669.32M708.33 259.38H721.33M422.29 244.62H435.29M474.3 244.62H487.3M500.3 244.62H513.3M539.31 244.62H552.31M643.32 244.62H682.33M695.33 244.62H708.33M474.3 274.13H487.3M513.3 274.13H526.31M630.32 274.13H656.32M539.31 215.11H565.31M656.32 215.11H669.32M838.35 215.11H851.35M513.3 200.36H539.31M552.31 200.36H565.31M656.32 200.36H669.32M721.33 200.36H734.33M747.33 200.36H760.34M773.34 200.36H786.34M864.35 200.36H877.35M734.33 23.3H786.34M643.32 38.05H734.33M747.33 38.05H760.34M643.32 52.81H734.33M643.32 67.56H734.33M630.32 82.32H656.32M617.32 97.07H643.32M617.32 111.83H630.32M643.32 111.83H656.32M604.32 126.58H643.32M591.31 156.09H604.32M851.35 156.09H864.35M539.31 170.85H552.31M565.31 170.85H591.31M487.3 229.87H500.3M552.31 229.87H565.31M656.32 229.87H669.32M682.33 229.87H695.33M734.33 229.87H747.33M760.34 229.87H773.34M786.34 229.87H799.34M812.34 229.87H825.34M799.34 185.6H812.34M825.34 185.6H838.35M318.28 303.64V362.66M331.28 333.15V347.91M331.28 303.64V318.4M266.27 406.93V421.68M266.27 333.15V392.17M266.27 303.64V318.4M279.27 303.64V392.17M240.27 392.17V406.93M240.27 362.66V377.42M240.27 333.15V347.91M253.27 333.15V421.68M344.28 303.64V318.4M357.28 303.64V318.4M292.28 362.66V377.42M292.28 303.64V347.91M305.28 362.66V392.17M305.28 303.64V347.91M188.26 362.66V377.42M201.26 362.66V377.42M370.29 333.15V347.91M383.29 333.15V347.91M383.29 288.89V303.64M409.29 288.89V318.4M422.29 288.89V303.64M422.29 244.62V259.38M396.29 288.89V318.4M435.29 244.62V259.38M513.3 377.42V392.17M513.3 259.38V274.13M513.3 200.36V244.62M526.31 377.42V392.17M526.31 259.38V274.13M656.32 229.87V274.13M656.32 200.36V215.11M656.32 82.32V111.83M669.32 229.87V259.38M669.32 200.36V215.11M591.31 333.15V362.66M591.31 156.09V170.85M604.32 347.91V362.66M604.32 318.4V333.15M604.32 126.58V156.09M734.33 200.36V229.87M734.33 52.81V67.56M734.33 23.3V38.05M747.33 200.36V229.87M747.33 23.3V38.05M760.34 200.36V229.87M760.34 23.3V38.05M643.32 244.62V288.89M643.32 111.83V126.58M643.32 67.56V97.07M643.32 38.05V52.81M630.32 288.89V303.64M630.32 259.38V274.13M630.32 82.32V111.83M617.32 303.64V318.4M617.32 97.07V111.83M565.31 215.11V229.87M565.31 170.85V200.36M552.31 229.87V244.62M552.31 170.85V200.36M539.31 215.11V244.62M539.31 170.85V200.36M500.3 362.66V377.42M500.3 333.15V347.91M500.3 229.87V244.62M487.3 347.91V362.66M487.3 318.4V333.15M487.3 288.89V303.64M487.3 259.38V274.13M487.3 229.87V244.62M474.3 274.13V333.15M474.3 244.62V259.38M461.3 318.4V333.15M461.3 288.89V303.64M578.31 347.91V377.42M682.33 229.87V244.62M695.33 229.87V244.62M708.33 244.62V259.38M721.33 200.36V259.38M773.34 200.36V229.87M786.34 200.36V229.87M799.34 185.6V229.87M812.34 185.6V229.87M825.34 185.6V229.87M838.35 185.6V215.11M851.35 156.09V215.11M864.35 156.09V200.36M877.35 126.58V200.36" stroke="#6a1b9a" stroke-width="2.8" fill="none" stroke-linecap="square" stroke-linejoin="miter"/>
</g></g>
<text x="740.75" y="399.4" font-size="26.5" text-anchor="middle">(a)</text>
<rect x="84.25" y="23.3" width="793.1" height="457.4" fill="none" stroke="#000" stroke-width="1.4"/>
<path d="M90.75 480.7v-3.1M90.75 23.3v3.1M103.75 480.7v-3.1M103.75 23.3v3.1M116.75 480.7v-3.1M116.75 23.3v3.1M129.76 480.7v-3.1M129.76 23.3v3.1M142.76 480.7v-3.1M142.76 23.3v3.1M155.76 480.7v-5.6M155.76 23.3v5.6M168.76 480.7v-3.1M168.76 23.3v3.1M181.76 480.7v-3.1M181.76 23.3v3.1M194.76 480.7v-3.1M194.76 23.3v3.1M207.77 480.7v-3.1M207.77 23.3v3.1M220.77 480.7v-3.1M220.77 23.3v3.1M233.77 480.7v-3.1M233.77 23.3v3.1M246.77 480.7v-3.1M246.77 23.3v3.1M259.77 480.7v-3.1M259.77 23.3v3.1M272.77 480.7v-3.1M272.77 23.3v3.1M285.78 480.7v-5.6M285.78 23.3v5.6M298.78 480.7v-3.1M298.78 23.3v3.1M311.78 480.7v-3.1M311.78 23.3v3.1M324.78 480.7v-3.1M324.78 23.3v3.1M337.78 480.7v-3.1M337.78 23.3v3.1M350.78 480.7v-3.1M350.78 23.3v3.1M363.79 480.7v-3.1M363.79 23.3v3.1M376.79 480.7v-3.1M376.79 23.3v3.1M389.79 480.7v-3.1M389.79 23.3v3.1M402.79 480.7v-3.1M402.79 23.3v3.1M415.79 480.7v-5.6M415.79 23.3v5.6M428.79 480.7v-3.1M428.79 23.3v3.1M441.8 480.7v-3.1M441.8 23.3v3.1M454.8 480.7v-3.1M454.8 23.3v3.1M467.8 480.7v-3.1M467.8 23.3v3.1M480.8 480.7v-3.1M480.8 23.3v3.1M493.8 480.7v-3.1M493.8 23.3v3.1M506.8 480.7v-3.1M506.8 23.3v3.1M519.8 480.7v-3.1M519.8 23.3v3.1M532.81 480.7v-3.1M532.81 23.3v3.1M545.81 480.7v-5.6M545.81 23.3v5.6M558.81 480.7v-3.1M558.81 23.3v3.1M571.81 480.7v-3.1M571.81 23.3v3.1M584.81 480.7v-3.1M584.81 23.3v3.1M597.81 480.7v-3.1M597.81 23.3v3.1M610.82 480.7v-3.1M610.82 23.3v3.1M623.82 480.7v-3.1M623.82 23.3v3.1M636.82 480.7v-3.1M636.82 23.3v3.1M649.82 480.7v-3.1M649.82 23.3v3.1M662.82 480.7v-3.1M662.82 23.3v3.1M675.82 480.7v-5.6M675.82 23.3v5.6M688.83 480.7v-3.1M688.83 23.3v3.1M701.83 480.7v-3.1M701.83 23.3v3.1M714.83 480.7v-3.1M714.83 23.3v3.1M727.83 480.7v-3.1M727.83 23.3v3.1M740.83 480.7v-3.1M740.83 23.3v3.1M753.83 480.7v-3.1M753.83 23.3v3.1M766.84 480.7v-3.1M766.84 23.3v3.1M779.84 480.7v-3.1M779.84 23.3v3.1M792.84 480.7v-3.1M792.84 23.3v3.1M805.84 480.7v-5.6M805.84 23.3v5.6M818.84 480.7v-3.1M818.84 23.3v3.1M831.84 480.7v-3.1M831.84 23.3v3.1M844.85 480.7v-3.1M844.85 23.3v3.1M857.85 480.7v-3.1M857.85 23.3v3.1M870.85 480.7v-3.1M870.85 23.3v3.1M84.25 473.32h5.6M877.35 473.32h-5.6M84.25 458.57h3.1M877.35 458.57h-3.1M84.25 443.81h3.1M877.35 443.81h-3.1M84.25 429.06h3.1M877.35 429.06h-3.1M84.25 414.3h3.1M877.35 414.3h-3.1M84.25 399.55h5.6M877.35 399.55h-5.6M84.25 384.79h3.1M877.35 384.79h-3.1M84.25 370.04h3.1M877.35 370.04h-3.1M84.25 355.28h3.1M877.35 355.28h-3.1M84.25 340.53h3.1M877.35 340.53h-3.1M84.25 325.77h5.6M877.35 325.77h-5.6M84.25 311.02h3.1M877.35 311.02h-3.1M84.25 296.26h3.1M877.35 296.26h-3.1M84.25 281.51h3.1M877.35 281.51h-3.1M84.25 266.75h3.1M877.35 266.75h-3.1M84.25 252h5.6M877.35 252h-5.6M84.25 237.25h3.1M877.35 237.25h-3.1M84.25 222.49h3.1M877.35 222.49h-3.1M84.25 207.74h3.1M877.35 207.74h-3.1M84.25 192.98h3.1M877.35 192.98h-3.1M84.25 178.23h5.6M877.35 178.23h-5.6M84.25 163.47h3.1M877.35 163.47h-3.1M84.25 148.72h3.1M877.35 148.72h-3.1M84.25 133.96h3.1M877.35 133.96h-3.1M84.25 119.21h3.1M877.35 119.21h-3.1M84.25 104.45h5.6M877.35 104.45h-5.6M84.25 89.7h3.1M877.35 89.7h-3.1M84.25 74.94h3.1M877.35 74.94h-3.1M84.25 60.19h3.1M877.35 60.19h-3.1M84.25 45.43h3.1M877.35 45.43h-3.1M84.25 30.68h5.6M877.35 30.68h-5.6" stroke="#000" stroke-width="1.1"/>
<text x="155.76" y="503.7" font-size="23.9" text-anchor="middle">160</text>
<text x="285.78" y="503.7" font-size="23.9" text-anchor="middle">170</text>
<text x="415.79" y="503.7" font-size="23.9" text-anchor="middle">180</text>
<text x="545.81" y="503.7" font-size="23.9" text-anchor="middle">190</text>
<text x="675.82" y="503.7" font-size="23.9" text-anchor="middle">200</text>
<text x="805.84" y="503.7" font-size="23.9" text-anchor="middle">210</text>
<text x="80.15" y="482.62" font-size="23.9" text-anchor="end">90</text>
<text x="80.15" y="408.85" font-size="23.9" text-anchor="end">95</text>
<text x="80.15" y="335.07" font-size="23.9" text-anchor="end">100</text>
<text x="80.15" y="261.3" font-size="23.9" text-anchor="end">105</text>
<text x="80.15" y="187.53" font-size="23.9" text-anchor="end">110</text>
<text x="80.15" y="113.75" font-size="23.9" text-anchor="end">115</text>
<text x="80.15" y="39.98" font-size="23.9" text-anchor="end">120</text>
<text transform="translate(22.7 252) rotate(-90)" font-size="29.6" text-anchor="middle">Proton Number, Z</text>
<rect x="884.75" y="452.11" width="23.65" height="28.89" fill="#2b4ec4"/>
<rect x="884.75" y="423.52" width="23.65" height="28.89" fill="#2a57d8"/>
<rect x="884.75" y="394.94" width="23.65" height="28.89" fill="#2f66f6"/>
<rect x="884.75" y="366.35" width="23.65" height="28.89" fill="#4775f7"/>
<rect x="884.75" y="337.76" width="23.65" height="28.89" fill="#07a2b3"/>
<rect x="884.75" y="309.18" width="23.65" height="28.89" fill="#16aeb2"/>
<rect x="884.75" y="280.59" width="23.65" height="28.89" fill="#22beb2"/>
<rect x="884.75" y="252" width="23.65" height="28.89" fill="#44c184"/>
<rect x="884.75" y="223.41" width="23.65" height="28.89" fill="#2ed65a"/>
<rect x="884.75" y="194.82" width="23.65" height="28.89" fill="#3de320"/>
<rect x="884.75" y="166.24" width="23.65" height="28.89" fill="#5de24b"/>
<rect x="884.75" y="137.65" width="23.65" height="28.89" fill="#bcd451"/>
<rect x="884.75" y="109.06" width="23.65" height="28.89" fill="#e6cc48"/>
<rect x="884.75" y="80.48" width="23.65" height="28.89" fill="#fed52a"/>
<rect x="884.75" y="51.89" width="23.65" height="28.89" fill="#fee443"/>
<rect x="884.75" y="23.3" width="23.65" height="28.89" fill="#fdf381"/>
<rect x="884.75" y="23.3" width="23.65" height="457.4" fill="none" stroke="#000" stroke-width="1.1"/>
<path d="M908.4 480.7h5.5M908.4 452.11h5.5M908.4 423.52h5.5M908.4 394.94h5.5M908.4 366.35h5.5M908.4 337.76h5.5M908.4 309.18h5.5M908.4 280.59h5.5M908.4 252h5.5M908.4 223.41h5.5M908.4 194.82h5.5M908.4 166.24h5.5M908.4 137.65h5.5M908.4 109.06h5.5M908.4 80.48h5.5M908.4 51.89h5.5M908.4 23.3h5.5" stroke="#000" stroke-width="1.1"/>
<text x="919.3" y="32.9" font-size="26.6">10</text>
<text x="952" y="22.7" font-size="18.6">−2</text>
<text x="919.3" y="90.07" font-size="26.6">10</text>
<text x="952" y="79.88" font-size="18.6">−3</text>
<text x="919.3" y="147.25" font-size="26.6">10</text>
<text x="952" y="137.05" font-size="18.6">−4</text>
<text x="919.3" y="204.42" font-size="26.6">10</text>
<text x="952" y="194.22" font-size="18.6">−5</text>
<text x="919.3" y="261.6" font-size="26.6">10</text>
<text x="952" y="251.4" font-size="18.6">−6</text>
<text x="919.3" y="318.78" font-size="26.6">10</text>
<text x="952" y="308.57" font-size="18.6">−7</text>
<text x="919.3" y="375.95" font-size="26.6">10</text>
<text x="952" y="365.75" font-size="18.6">−8</text>
<text x="919.3" y="433.12" font-size="26.6">10</text>
<text x="952" y="422.92" font-size="18.6">−9</text>
<text x="919.3" y="490.3" font-size="26.6">10</text>
<text x="952" y="480.1" font-size="18.6">−10</text>
<text transform="translate(1019.3 252) rotate(-90)" font-size="26.5" text-anchor="middle">Abundance</text>
<clipPath id="clipb"><rect x="84.25" y="518.35" width="793.1" height="457.35"/></clipPath>
<rect x="84.25" y="518.35" width="793.1" height="457.35" fill="#ededed"/>
<g clip-path="url(#clipb)"><g>
<path d="M474.3 960.55H487.3V976.1H474.3ZM500.3 960.55H513.3V976.1H500.3ZM578.31 960.55H591.31V976.1H578.31ZM630.32 960.55H643.32V976.1H630.32ZM656.32 960.55H669.32V976.1H656.32ZM682.33 960.55H695.33V976.1H682.33ZM708.33 960.55H721.33V976.1H708.33ZM734.33 960.55H747.33V976.1H734.33ZM760.34 960.55H877.35V976.1H760.34ZM682.33 945.79H695.33V961.35H682.33ZM734.33 945.79H747.33V961.35H734.33ZM760.34 945.79H773.34V961.35H760.34ZM786.34 945.79H877.35V961.35H786.34ZM474.3 931.04H487.3V946.59H474.3ZM630.32 931.04H643.32V946.59H630.32ZM734.33 931.04H747.33V946.59H734.33ZM760.34 931.04H773.34V946.59H760.34ZM786.34 931.04H799.34V946.59H786.34ZM812.34 931.04H877.35V946.59H812.34ZM812.34 916.29H825.34V931.84H812.34ZM838.35 916.29H877.35V931.84H838.35ZM812.34 901.53H825.34V917.09H812.34ZM838.35 901.53H851.35V917.09H838.35ZM864.35 901.53H877.35V917.09H864.35ZM812.34 886.78H825.34V902.33H812.34ZM838.35 886.78H851.35V902.33H838.35ZM864.35 886.78H877.35V902.33H864.35ZM812.34 872.03H825.34V887.58H812.34ZM838.35 872.03H851.35V887.58H838.35ZM864.35 872.03H877.35V887.58H864.35ZM864.35 857.27H877.35V872.83H864.35ZM500.3 739.25H513.3V754.8H500.3ZM526.31 709.74H539.31V725.3H526.31ZM526.31 694.99H539.31V710.54H526.31ZM84.25 650.73H162.26V666.28H84.25ZM84.25 635.98H97.25V651.53H84.25ZM84.25 621.22H214.27V636.78H84.25ZM84.25 606.47H149.26V622.02H84.25ZM84.25 591.72H253.27V607.27H84.25ZM84.25 576.96H175.26V592.52H84.25ZM84.25 562.21H292.28V577.76H84.25ZM84.25 547.46H253.27V563.01H84.25ZM84.25 532.7H383.29V548.26H84.25ZM84.25 517.95H305.28V533.5H84.25Z" fill="#fff"/>
<path d="M97.25 636.38H214.27M474.3 975.7H487.3M500.3 975.7H513.3M578.31 975.7H591.31M630.32 975.7H643.32M656.32 975.7H669.32M682.33 975.7H695.33M708.33 975.7H721.33M734.33 975.7H747.33M760.34 975.7H877.35M474.3 960.95H487.3M500.3 960.95H513.3M578.31 960.95H591.31M630.32 960.95H643.32M656.32 960.95H669.32M708.33 960.95H721.33M773.34 960.95H786.34M149.26 621.62H214.27M253.27 547.86H383.29M305.28 533.1H383.29M500.3 754.4H513.3M500.3 739.65H513.3M149.26 606.87H253.27M175.26 592.12H253.27M474.3 931.44H487.3M630.32 931.44H643.32M734.33 931.44H747.33M760.34 931.44H773.34M786.34 931.44H799.34M825.34 931.44H838.35M84.25 518.35H305.28M175.26 577.36H292.28M474.3 946.19H487.3M630.32 946.19H643.32M682.33 946.19H695.33M799.34 946.19H812.34M812.34 872.43H825.34M838.35 872.43H851.35M253.27 562.61H292.28M84.25 665.88H162.26M97.25 651.13H162.26M864.35 857.67H877.35M526.31 695.39H539.31M526.31 724.9H539.31M851.35 916.69H864.35M708.33 960.95V975.7M721.33 960.95V975.7M760.34 931.44V975.7M149.26 606.87V621.62M864.35 857.67V916.69M877.35 857.67V975.7M84.25 518.35V665.88M383.29 533.1V547.86M500.3 960.95V975.7M500.3 739.65V754.4M513.3 960.95V975.7M513.3 739.65V754.4M773.34 931.44V960.95M175.26 577.36V592.12M97.25 636.38V651.13M630.32 960.95V975.7M630.32 931.44V946.19M643.32 960.95V975.7M643.32 931.44V946.19M305.28 518.35V533.1M656.32 960.95V975.7M669.32 960.95V975.7M812.34 872.43V946.19M825.34 872.43V931.44M253.27 592.12V606.87M253.27 547.86V562.61M838.35 872.43V931.44M851.35 872.43V916.69M734.33 931.44V975.7M747.33 931.44V975.7M578.31 960.95V975.7M591.31 960.95V975.7M786.34 931.44V960.95M799.34 931.44V946.19M682.33 946.19V975.7M695.33 946.19V975.7M474.3 960.95V975.7M474.3 931.44V946.19M487.3 960.95V975.7M487.3 931.44V946.19M526.31 695.39V724.9M539.31 695.39V724.9M162.26 651.13V665.88M214.27 621.62V636.38M292.28 562.61V577.36" stroke="#bbbbbb" stroke-width="1.5" fill="none" stroke-linecap="square"/>
<rect x="84.25" y="960.95" width="13" height="14.75" fill="#22beb2" stroke="#fff" stroke-opacity="0.75" stroke-width="0.7"/>
<rect x="97.25" y="960.95" width="13" height="14.75" fill="#2ed65a" stroke="#fff" stroke-opacity="0.75" stroke-width="0.7"/>
<rect x="110.25" y="960.95" width="13" height="14.75" fill="#44c184" stroke="#fff" stroke-opacity="0.75" stroke-width="0.7"/>
<rect x="123.25" y="960.95" width="13" height="14.75" fill="#2ed65a" stroke="#fff" stroke-opacity="0.75" stroke-width="0.7"/>
<rect x="136.26" y="960.95" width="13" height="14.75" fill="#22beb2" stroke="#fff" stroke-opacity="0.75" stroke-width="0.7"/>
<rect x="149.26" y="960.95" width="13" height="14.75" fill="#22beb2" stroke="#fff" stroke-opacity="0.75" stroke-width="0.7"/>
<rect x="162.26" y="960.95" width="13" height="14.75" fill="#16aeb2" stroke="#fff" stroke-opacity="0.75" stroke-width="0.7"/>
<rect x="175.26" y="960.95" width="13" height="14.75" fill="#16aeb2" stroke="#fff" stroke-opacity="0.75" stroke-width="0.7"/>
<rect x="188.26" y="960.95" width="13" height="14.75" fill="#2a57d8" stroke="#fff" stroke-opacity="0.75" stroke-width="0.7"/>
<rect x="201.26" y="960.95" width="13" height="14.75" fill="#2b4ec4" stroke="#fff" stroke-opacity="0.75" stroke-width="0.7"/>
<rect x="214.27" y="960.95" width="13" height="14.75" fill="#2b4ec4" stroke="#fff" stroke-opacity="0.75" stroke-width="0.7"/>
<rect x="84.25" y="946.19" width="13" height="14.75" fill="#2ed65a" stroke="#fff" stroke-opacity="0.75" stroke-width="0.7"/>
<rect x="97.25" y="946.19" width="13" height="14.75" fill="#2ed65a" stroke="#fff" stroke-opacity="0.75" stroke-width="0.7"/>
<rect x="110.25" y="946.19" width="13" height="14.75" fill="#2ed65a" stroke="#fff" stroke-opacity="0.75" stroke-width="0.7"/>
<rect x="123.25" y="946.19" width="13" height="14.75" fill="#2ed65a" stroke="#fff" stroke-opacity="0.75" stroke-width="0.7"/>
<rect x="136.26" y="946.19" width="13" height="14.75" fill="#2ed65a" stroke="#fff" stroke-opacity="0.75" stroke-width="0.7"/>
<rect x="149.26" y="946.19" width="13" height="14.75" fill="#44c184" stroke="#fff" stroke-opacity="0.75" stroke-width="0.7"/>
<rect x="162.26" y="946.19" width="13" height="14.75" fill="#22beb2" stroke="#fff" stroke-opacity="0.75" stroke-width="0.7"/>
<rect x="175.26" y="946.19" width="13" height="14.75" fill="#22beb2" stroke="#fff" stroke-opacity="0.75" stroke-width="0.7"/>
<rect x="188.26" y="946.19" width="13" height="14.75" fill="#07a2b3" stroke="#fff" stroke-opacity="0.75" stroke-width="0.7"/>
<rect x="201.26" y="946.19" width="13" height="14.75" fill="#2f66f6" stroke="#fff" stroke-opacity="0.75" stroke-width="0.7"/>
<rect x="214.27" y="946.19" width="13" height="14.75" fill="#2b4ec4" stroke="#fff" stroke-opacity="0.75" stroke-width="0.7"/>
<rect x="227.27" y="946.19" width="13" height="14.75" fill="#2b4ec4" stroke="#fff" stroke-opacity="0.75" stroke-width="0.7"/>
<rect x="240.27" y="946.19" width="13" height="14.75" fill="#2b4ec4" stroke="#fff" stroke-opacity="0.75" stroke-width="0.7"/>
<rect x="84.25" y="931.44" width="13" height="14.75" fill="#22beb2" stroke="#fff" stroke-opacity="0.75" stroke-width="0.7"/>
<rect x="97.25" y="931.44" width="13" height="14.75" fill="#2ed65a" stroke="#fff" stroke-opacity="0.75" stroke-width="0.7"/>
<rect x="110.25" y="931.44" width="13" height="14.75" fill="#2ed65a" stroke="#fff" stroke-opacity="0.75" stroke-width="0.7"/>
<rect x="123.25" y="931.44" width="13" height="14.75" fill="#3de320" stroke="#fff" stroke-opacity="0.75" stroke-width="0.7"/>
<rect x="136.26" y="931.44" width="13" height="14.75" fill="#2ed65a" stroke="#fff" stroke-opacity="0.75" stroke-width="0.7"/>
<rect x="149.26" y="931.44" width="13" height="14.75" fill="#5de24b" stroke="#fff" stroke-opacity="0.75" stroke-width="0.7"/>
<rect x="162.26" y="931.44" width="13" height="14.75" fill="#2ed65a" stroke="#fff" stroke-opacity="0.75" stroke-width="0.7"/>
<rect x="175.26" y="931.44" width="13" height="14.75" fill="#3de320" stroke="#fff" stroke-opacity="0.75" stroke-width="0.7"/>
<rect x="188.26" y="931.44" width="13" height="14.75" fill="#44c184" stroke="#fff" stroke-opacity="0.75" stroke-width="0.7"/>
<rect x="201.26" y="931.44" width="13" height="14.75" fill="#22beb2" stroke="#fff" stroke-opacity="0.75" stroke-width="0.7"/>
<rect x="214.27" y="931.44" width="13" height="14.75" fill="#07a2b3" stroke="#fff" stroke-opacity="0.75" stroke-width="0.7"/>
<rect x="227.27" y="931.44" width="13" height="14.75" fill="#07a2b3" stroke="#fff" stroke-opacity="0.75" stroke-width="0.7"/>
<rect x="240.27" y="931.44" width="13" height="14.75" fill="#2b4ec4" stroke="#fff" stroke-opacity="0.75" stroke-width="0.7"/>
<rect x="253.27" y="931.44" width="13" height="14.75" fill="#2b4ec4" stroke="#fff" stroke-opacity="0.75" stroke-width="0.7"/>
<rect x="266.27" y="931.44" width="13" height="14.75" fill="#2b4ec4" stroke="#fff" stroke-opacity="0.75" stroke-width="0.7"/>
<rect x="279.27" y="931.44" width="13" height="14.75" fill="#2b4ec4" stroke="#fff" stroke-opacity="0.75" stroke-width="0.7"/>
<rect x="292.28" y="931.44" width="13" height="14.75" fill="#2b4ec4" stroke="#fff" stroke-opacity="0.75" stroke-width="0.7"/>
<rect x="305.28" y="931.44" width="13" height="14.75" fill="#2b4ec4" stroke="#fff" stroke-opacity="0.75" stroke-width="0.7"/>
<rect x="84.25" y="916.69" width="13" height="14.75" fill="#16aeb2" stroke="#fff" stroke-opacity="0.75" stroke-width="0.7"/>
<rect x="97.25" y="916.69" width="13" height="14.75" fill="#22beb2" stroke="#fff" stroke-opacity="0.75" stroke-width="0.7"/>
<rect x="110.25" y="916.69" width="13" height="14.75" fill="#44c184" stroke="#fff" stroke-opacity="0.75" stroke-width="0.7"/>
<rect x="123.25" y="916.69" width="13" height="14.75" fill="#2ed65a" stroke="#fff" stroke-opacity="0.75" stroke-width="0.7"/>
<rect x="136.26" y="916.69" width="13" height="14.75" fill="#2ed65a" stroke="#fff" stroke-opacity="0.75" stroke-width="0.7"/>
<rect x="149.26" y="916.69" width="13" height="14.75" fill="#2ed65a" stroke="#fff" stroke-opacity="0.75" stroke-width="0.7"/>
<rect x="162.26" y="916.69" width="13" height="14.75" fill="#2ed65a" stroke="#fff" stroke-opacity="0.75" stroke-width="0.7"/>
<rect x="175.26" y="916.69" width="13" height="14.75" fill="#3de320" stroke="#fff" stroke-opacity="0.75" stroke-width="0.7"/>
<rect x="188.26" y="916.69" width="13" height="14.75" fill="#2ed65a" stroke="#fff" stroke-opacity="0.75" stroke-width="0.7"/>
<rect x="201.26" y="916.69" width="13" height="14.75" fill="#2ed65a" stroke="#fff" stroke-opacity="0.75" stroke-width="0.7"/>
<rect x="214.27" y="916.69" width="13" height="14.75" fill="#16aeb2" stroke="#fff" stroke-opacity="0.75" stroke-width="0.7"/>
<rect x="227.27" y="916.69" width="13" height="14.75" fill="#07a2b3" stroke="#fff" stroke-opacity="0.75" stroke-width="0.7"/>
<rect x="240.27" y="916.69" width="13" height="14.75" fill="#2a57d8" stroke="#fff" stroke-opacity="0.75" stroke-width="0.7"/>
<rect x="253.27" y="916.69" width="13" height="14.75" fill="#4775f7" stroke="#fff" stroke-opacity="0.75" stroke-width="0.7"/>
<rect x="266.27" y="916.69" width="13" height="14.75" fill="#4775f7" stroke="#fff" stroke-opacity="0.75" stroke-width="0.7"/>
<rect x="279.27" y="916.69" width="13" height="14.75" fill="#2f66f6" stroke="#fff" stroke-opacity="0.75" stroke-width="0.7"/>
<rect x="292.28" y="916.69" width="13" height="14.75" fill="#4775f7" stroke="#fff" stroke-opacity="0.75" stroke-width="0.7"/>
<rect x="305.28" y="916.69" width="13" height="14.75" fill="#2b4ec4" stroke="#fff" stroke-opacity="0.75" stroke-width="0.7"/>
<rect x="318.28" y="916.69" width="13" height="14.75" fill="#2b4ec4" stroke="#fff" stroke-opacity="0.75" stroke-width="0.7"/>
<rect x="331.28" y="916.69" width="13" height="14.75" fill="#2b4ec4" stroke="#fff" stroke-opacity="0.75" stroke-width="0.7"/>
<rect x="84.25" y="901.93" width="13" height="14.75" fill="#2f66f6" stroke="#fff" stroke-opacity="0.75" stroke-width="0.7"/>
<rect x="97.25" y="901.93" width="13" height="14.75" fill="#07a2b3" stroke="#fff" stroke-opacity="0.75" stroke-width="0.7"/>
<rect x="110.25" y="901.93" width="13" height="14.75" fill="#16aeb2" stroke="#fff" stroke-opacity="0.75" stroke-width="0.7"/>
<rect x="123.25" y="901.93" width="13" height="14.75" fill="#22beb2" stroke="#fff" stroke-opacity="0.75" stroke-width="0.7"/>
<rect x="136.26" y="901.93" width="13" height="14.75" fill="#44c184" stroke="#fff" stroke-opacity="0.75" stroke-width="0.7"/>
<rect x="149.26" y="901.93" width="13" height="14.75" fill="#2ed65a" stroke="#fff" stroke-opacity="0.75" stroke-width="0.7"/>
<rect x="162.26" y="901.93" width="13" height="14.75" fill="#2ed65a" stroke="#fff" stroke-opacity="0.75" stroke-width="0.7"/>
<rect x="175.26" y="901.93" width="13" height="14.75" fill="#3de320" stroke="#fff" stroke-opacity="0.75" stroke-width="0.7"/>
<rect x="188.26" y="901.93" width="13" height="14.75" fill="#3de320" stroke="#fff" stroke-opacity="0.75" stroke-width="0.7"/>
<rect x="201.26" y="901.93" width="13" height="14.75" fill="#2ed65a" stroke="#fff" stroke-opacity="0.75" stroke-width="0.7"/>
<rect x="214.27" y="901.93" width="13" height="14.75" fill="#44c184" stroke="#fff" stroke-opacity="0.75" stroke-width="0.7"/>
<rect x="227.27" y="901.93" width="13" height="14.75" fill="#44c184" stroke="#fff" stroke-opacity="0.75" stroke-width="0.7"/>
<rect x="240.27" y="901.93" width="13" height="14.75" fill="#16aeb2" stroke="#fff" stroke-opacity="0.75" stroke-width="0.7"/>
<rect x="253.27" y="901.93" width="13" height="14.75" fill="#16aeb2" stroke="#fff" stroke-opacity="0.75" stroke-width="0.7"/>
<rect x="266.27" y="901.93" width="13" height="14.75" fill="#16aeb2" stroke="#fff" stroke-opacity="0.75" stroke-width="0.7"/>
<rect x="279.27" y="901.93" width="13" height="14.75" fill="#07a2b3" stroke="#fff" stroke-opacity="0.75" stroke-width="0.7"/>
<rect x="292.28" y="901.93" width="13" height="14.75" fill="#16aeb2" stroke="#fff" stroke-opacity="0.75" stroke-width="0.7"/>
<rect x="305.28" y="901.93" width="13" height="14.75" fill="#4775f7" stroke="#fff" stroke-opacity="0.75" stroke-width="0.7"/>
<rect x="318.28" y="901.93" width="13" height="14.75" fill="#2f66f6" stroke="#fff" stroke-opacity="0.75" stroke-width="0.7"/>
<rect x="331.28" y="901.93" width="13" height="14.75" fill="#2f66f6" stroke="#fff" stroke-opacity="0.75" stroke-width="0.7"/>
<rect x="344.28" y="901.93" width="13" height="14.75" fill="#2b4ec4" stroke="#fff" stroke-opacity="0.75" stroke-width="0.7"/>
<rect x="357.28" y="901.93" width="13" height="14.75" fill="#2a57d8" stroke="#fff" stroke-opacity="0.75" stroke-width="0.7"/>
<rect x="370.29" y="901.93" width="13" height="14.75" fill="#2b4ec4" stroke="#fff" stroke-opacity="0.75" stroke-width="0.7"/>
<rect x="383.29" y="901.93" width="13" height="14.75" fill="#2b4ec4" stroke="#fff" stroke-opacity="0.75" stroke-width="0.7"/>
<rect x="84.25" y="887.18" width="13" height="14.75" fill="#2b4ec4" stroke="#fff" stroke-opacity="0.75" stroke-width="0.7"/>
<rect x="97.25" y="887.18" width="13" height="14.75" fill="#2b4ec4" stroke="#fff" stroke-opacity="0.75" stroke-width="0.7"/>
<rect x="110.25" y="887.18" width="13" height="14.75" fill="#2f66f6" stroke="#fff" stroke-opacity="0.75" stroke-width="0.7"/>
<rect x="123.25" y="887.18" width="13" height="14.75" fill="#4775f7" stroke="#fff" stroke-opacity="0.75" stroke-width="0.7"/>
<rect x="136.26" y="887.18" width="13" height="14.75" fill="#16aeb2" stroke="#fff" stroke-opacity="0.75" stroke-width="0.7"/>
<rect x="149.26" y="887.18" width="13" height="14.75" fill="#22beb2" stroke="#fff" stroke-opacity="0.75" stroke-width="0.7"/>
<rect x="162.26" y="887.18" width="13" height="14.75" fill="#44c184" stroke="#fff" stroke-opacity="0.75" stroke-width="0.7"/>
<rect x="175.26" y="887.18" width="13" height="14.75" fill="#2ed65a" stroke="#fff" stroke-opacity="0.75" stroke-width="0.7"/>
<rect x="188.26" y="887.18" width="13" height="14.75" fill="#2ed65a" stroke="#fff" stroke-opacity="0.75" stroke-width="0.7"/>
<rect x="201.26" y="887.18" width="13" height="14.75" fill="#2ed65a" stroke="#fff" stroke-opacity="0.75" stroke-width="0.7"/>
<rect x="214.27" y="887.18" width="13" height="14.75" fill="#22beb2" stroke="#fff" stroke-opacity="0.75" stroke-width="0.7"/>
<rect x="227.27" y="887.18" width="13" height="14.75" fill="#22beb2" stroke="#fff" stroke-opacity="0.75" stroke-width="0.7"/>
<rect x="240.27" y="887.18" width="13" height="14.75" fill="#07a2b3" stroke="#fff" stroke-opacity="0.75" stroke-width="0.7"/>
<rect x="253.27" y="887.18" width="13" height="14.75" fill="#16aeb2" stroke="#fff" stroke-opacity="0.75" stroke-width="0.7"/>
<rect x="266.27" y="887.18" width="13" height="14.75" fill="#16aeb2" stroke="#fff" stroke-opacity="0.75" stroke-width="0.7"/>
<rect x="279.27" y="887.18" width="13" height="14.75" fill="#22beb2" stroke="#fff" stroke-opacity="0.75" stroke-width="0.7"/>
<rect x="292.28" y="887.18" width="13" height="14.75" fill="#22beb2" stroke="#fff" stroke-opacity="0.75" stroke-width="0.7"/>
<rect x="305.28" y="887.18" width="13" height="14.75" fill="#22beb2" stroke="#fff" stroke-opacity="0.75" stroke-width="0.7"/>
<rect x="318.28" y="887.18" width="13" height="14.75" fill="#16aeb2" stroke="#fff" stroke-opacity="0.75" stroke-width="0.7"/>
<rect x="331.28" y="887.18" width="13" height="14.75" fill="#07a2b3" stroke="#fff" stroke-opacity="0.75" stroke-width="0.7"/>
<rect x="344.28" y="887.18" width="13" height="14.75" fill="#2f66f6" stroke="#fff" stroke-opacity="0.75" stroke-width="0.7"/>
<rect x="357.28" y="887.18" width="13" height="14.75" fill="#22beb2" stroke="#fff" stroke-opacity="0.75" stroke-width="0.7"/>
<rect x="370.29" y="887.18" width="13" height="14.75" fill="#07a2b3" stroke="#fff" stroke-opacity="0.75" stroke-width="0.7"/>
<rect x="383.29" y="887.18" width="13" height="14.75" fill="#07a2b3" stroke="#fff" stroke-opacity="0.75" stroke-width="0.7"/>
<rect x="396.29" y="887.18" width="13" height="14.75" fill="#2b4ec4" stroke="#fff" stroke-opacity="0.75" stroke-width="0.7"/>
<rect x="409.29" y="887.18" width="13" height="14.75" fill="#2b4ec4" stroke="#fff" stroke-opacity="0.75" stroke-width="0.7"/>
<rect x="84.25" y="872.43" width="13" height="14.75" fill="#2b4ec4" stroke="#fff" stroke-opacity="0.75" stroke-width="0.7"/>
<rect x="97.25" y="872.43" width="13" height="14.75" fill="#2b4ec4" stroke="#fff" stroke-opacity="0.75" stroke-width="0.7"/>
<rect x="110.25" y="872.43" width="13" height="14.75" fill="#2b4ec4" stroke="#fff" stroke-opacity="0.75" stroke-width="0.7"/>
<rect x="123.25" y="872.43" width="13" height="14.75" fill="#2f66f6" stroke="#fff" stroke-opacity="0.75" stroke-width="0.7"/>
<rect x="136.26" y="872.43" width="13" height="14.75" fill="#07a2b3" stroke="#fff" stroke-opacity="0.75" stroke-width="0.7"/>
<rect x="149.26" y="872.43" width="13" height="14.75" fill="#22beb2" stroke="#fff" stroke-opacity="0.75" stroke-width="0.7"/>
<rect x="162.26" y="872.43" width="13" height="14.75" fill="#44c184" stroke="#fff" stroke-opacity="0.75" stroke-width="0.7"/>
<rect x="175.26" y="872.43" width="13" height="14.75" fill="#22beb2" stroke="#fff" stroke-opacity="0.75" stroke-width="0.7"/>
<rect x="188.26" y="872.43" width="13" height="14.75" fill="#44c184" stroke="#fff" stroke-opacity="0.75" stroke-width="0.7"/>
<rect x="201.26" y="872.43" width="13" height="14.75" fill="#22beb2" stroke="#fff" stroke-opacity="0.75" stroke-width="0.7"/>
<rect x="214.27" y="872.43" width="13" height="14.75" fill="#44c184" stroke="#fff" stroke-opacity="0.75" stroke-width="0.7"/>
<rect x="227.27" y="872.43" width="13" height="14.75" fill="#16aeb2" stroke="#fff" stroke-opacity="0.75" stroke-width="0.7"/>
<rect x="240.27" y="872.43" width="13" height="14.75" fill="#22beb2" stroke="#fff" stroke-opacity="0.75" stroke-width="0.7"/>
<rect x="253.27" y="872.43" width="13" height="14.75" fill="#44c184" stroke="#fff" stroke-opacity="0.75" stroke-width="0.7"/>
<rect x="266.27" y="872.43" width="13" height="14.75" fill="#2ed65a" stroke="#fff" stroke-opacity="0.75" stroke-width="0.7"/>
<rect x="279.27" y="872.43" width="13" height="14.75" fill="#2ed65a" stroke="#fff" stroke-opacity="0.75" stroke-width="0.7"/>
<rect x="292.28" y="872.43" width="13" height="14.75" fill="#5de24b" stroke="#fff" stroke-opacity="0.75" stroke-width="0.7"/>
<rect x="305.28" y="872.43" width="13" height="14.75" fill="#2ed65a" stroke="#fff" stroke-opacity="0.75" stroke-width="0.7"/>
<rect x="318.28" y="872.43" width="13" height="14.75" fill="#2ed65a" stroke="#fff" stroke-opacity="0.75" stroke-width="0.7"/>
<rect x="331.28" y="872.43" width="13" height="14.75" fill="#2ed65a" stroke="#fff" stroke-opacity="0.75" stroke-width="0.7"/>
<rect x="344.28" y="872.43" width="13" height="14.75" fill="#2ed65a" stroke="#fff" stroke-opacity="0.75" stroke-width="0.7"/>
<rect x="357.28" y="872.43" width="13" height="14.75" fill="#5de24b" stroke="#fff" stroke-opacity="0.75" stroke-width="0.7"/>
<rect x="370.29" y="872.43" width="13" height="14.75" fill="#44c184" stroke="#fff" stroke-opacity="0.75" stroke-width="0.7"/>
<rect x="383.29" y="872.43" width="13" height="14.75" fill="#22beb2" stroke="#fff" stroke-opacity="0.75" stroke-width="0.7"/>
<rect x="396.29" y="872.43" width="13" height="14.75" fill="#2f66f6" stroke="#fff" stroke-opacity="0.75" stroke-width="0.7"/>
<rect x="409.29" y="872.43" width="13" height="14.75" fill="#07a2b3" stroke="#fff" stroke-opacity="0.75" stroke-width="0.7"/>
<rect x="422.29" y="872.43" width="13" height="14.75" fill="#2b4ec4" stroke="#fff" stroke-opacity="0.75" stroke-width="0.7"/>
<rect x="435.29" y="872.43" width="13" height="14.75" fill="#2f66f6" stroke="#fff" stroke-opacity="0.75" stroke-width="0.7"/>
<rect x="448.3" y="872.43" width="13" height="14.75" fill="#2b4ec4" stroke="#fff" stroke-opacity="0.75" stroke-width="0.7"/>
<rect x="461.3" y="872.43" width="13" height="14.75" fill="#2b4ec4" stroke="#fff" stroke-opacity="0.75" stroke-width="0.7"/>
<rect x="84.25" y="857.67" width="13" height="14.75" fill="#2b4ec4" stroke="#fff" stroke-opacity="0.75" stroke-width="0.7"/>
<rect x="97.25" y="857.67" width="13" height="14.75" fill="#2b4ec4" stroke="#fff" stroke-opacity="0.75" stroke-width="0.7"/>
<rect x="110.25" y="857.67" width="13" height="14.75" fill="#2b4ec4" stroke="#fff" stroke-opacity="0.75" stroke-width="0.7"/>
<rect x="123.25" y="857.67" width="13" height="14.75" fill="#2b4ec4" stroke="#fff" stroke-opacity="0.75" stroke-width="0.7"/>
<rect x="136.26" y="857.67" width="13" height="14.75" fill="#2b4ec4" stroke="#fff" stroke-opacity="0.75" stroke-width="0.7"/>
<rect x="149.26" y="857.67" width="13" height="14.75" fill="#4775f7" stroke="#fff" stroke-opacity="0.75" stroke-width="0.7"/>
<rect x="162.26" y="857.67" width="13" height="14.75" fill="#2f66f6" stroke="#fff" stroke-opacity="0.75" stroke-width="0.7"/>
<rect x="175.26" y="857.67" width="13" height="14.75" fill="#07a2b3" stroke="#fff" stroke-opacity="0.75" stroke-width="0.7"/>
<rect x="188.26" y="857.67" width="13" height="14.75" fill="#07a2b3" stroke="#fff" stroke-opacity="0.75" stroke-width="0.7"/>
<rect x="201.26" y="857.67" width="13" height="14.75" fill="#22beb2" stroke="#fff" stroke-opacity="0.75" stroke-width="0.7"/>
<rect x="214.27" y="857.67" width="13" height="14.75" fill="#4775f7" stroke="#fff" stroke-opacity="0.75" stroke-width="0.7"/>
<rect x="227.27" y="857.67" width="13" height="14.75" fill="#22beb2" stroke="#fff" stroke-opacity="0.75" stroke-width="0.7"/>
<rect x="240.27" y="857.67" width="13" height="14.75" fill="#07a2b3" stroke="#fff" stroke-opacity="0.75" stroke-width="0.7"/>
<rect x="253.27" y="857.67" width="13" height="14.75" fill="#22beb2" stroke="#fff" stroke-opacity="0.75" stroke-width="0.7"/>
<rect x="266.27" y="857.67" width="13" height="14.75" fill="#07a2b3" stroke="#fff" stroke-opacity="0.75" stroke-width="0.7"/>
<rect x="279.27" y="857.67" width="13" height="14.75" fill="#2ed65a" stroke="#fff" stroke-opacity="0.75" stroke-width="0.7"/>
<rect x="292.28" y="857.67" width="13" height="14.75" fill="#2ed65a" stroke="#fff" stroke-opacity="0.75" stroke-width="0.7"/>
<rect x="305.28" y="857.67" width="13" height="14.75" fill="#2ed65a" stroke="#fff" stroke-opacity="0.75" stroke-width="0.7"/>
<rect x="318.28" y="857.67" width="13" height="14.75" fill="#2ed65a" stroke="#fff" stroke-opacity="0.75" stroke-width="0.7"/>
<rect x="331.28" y="857.67" width="13" height="14.75" fill="#5de24b" stroke="#fff" stroke-opacity="0.75" stroke-width="0.7"/>
<rect x="344.28" y="857.67" width="13" height="14.75" fill="#3de320" stroke="#fff" stroke-opacity="0.75" stroke-width="0.7"/>
<rect x="357.28" y="857.67" width="13" height="14.75" fill="#5de24b" stroke="#fff" stroke-opacity="0.75" stroke-width="0.7"/>
<rect x="370.29" y="857.67" width="13" height="14.75" fill="#3de320" stroke="#fff" stroke-opacity="0.75" stroke-width="0.7"/>
<rect x="383.29" y="857.67" width="13" height="14.75" fill="#5de24b" stroke="#fff" stroke-opacity="0.75" stroke-width="0.7"/>
<rect x="396.29" y="857.67" width="13" height="14.75" fill="#22beb2" stroke="#fff" stroke-opacity="0.75" stroke-width="0.7"/>
<rect x="409.29" y="857.67" width="13" height="14.75" fill="#07a2b3" stroke="#fff" stroke-opacity="0.75" stroke-width="0.7"/>
<rect x="422.29" y="857.67" width="13" height="14.75" fill="#2b4ec4" stroke="#fff" stroke-opacity="0.75" stroke-width="0.7"/>
<rect x="435.29" y="857.67" width="13" height="14.75" fill="#2b4ec4" stroke="#fff" stroke-opacity="0.75" stroke-width="0.7"/>
<rect x="448.3" y="857.67" width="13" height="14.75" fill="#2b4ec4" stroke="#fff" stroke-opacity="0.75" stroke-width="0.7"/>
<rect x="461.3" y="857.67" width="13" height="14.75" fill="#2b4ec4" stroke="#fff" stroke-opacity="0.75" stroke-width="0.7"/>
<rect x="110.25" y="842.92" width="13" height="14.75" fill="#2b4ec4" stroke="#fff" stroke-opacity="0.75" stroke-width="0.7"/>
<rect x="123.25" y="842.92" width="13" height="14.75" fill="#2b4ec4" stroke="#fff" stroke-opacity="0.75" stroke-width="0.7"/>
<rect x="136.26" y="842.92" width="13" height="14.75" fill="#2b4ec4" stroke="#fff" stroke-opacity="0.75" stroke-width="0.7"/>
<rect x="149.26" y="842.92" width="13" height="14.75" fill="#2b4ec4" stroke="#fff" stroke-opacity="0.75" stroke-width="0.7"/>
<rect x="162.26" y="842.92" width="13" height="14.75" fill="#2b4ec4" stroke="#fff" stroke-opacity="0.75" stroke-width="0.7"/>
<rect x="175.26" y="842.92" width="13" height="14.75" fill="#2b4ec4" stroke="#fff" stroke-opacity="0.75" stroke-width="0.7"/>
<rect x="188.26" y="842.92" width="13" height="14.75" fill="#2f66f6" stroke="#fff" stroke-opacity="0.75" stroke-width="0.7"/>
<rect x="201.26" y="842.92" width="13" height="14.75" fill="#2a57d8" stroke="#fff" stroke-opacity="0.75" stroke-width="0.7"/>
<rect x="214.27" y="842.92" width="13" height="14.75" fill="#4775f7" stroke="#fff" stroke-opacity="0.75" stroke-width="0.7"/>
<rect x="227.27" y="842.92" width="13" height="14.75" fill="#2b4ec4" stroke="#fff" stroke-opacity="0.75" stroke-width="0.7"/>
<rect x="240.27" y="842.92" width="13" height="14.75" fill="#07a2b3" stroke="#fff" stroke-opacity="0.75" stroke-width="0.7"/>
<rect x="253.27" y="842.92" width="13" height="14.75" fill="#4775f7" stroke="#fff" stroke-opacity="0.75" stroke-width="0.7"/>
<rect x="266.27" y="842.92" width="13" height="14.75" fill="#07a2b3" stroke="#fff" stroke-opacity="0.75" stroke-width="0.7"/>
<rect x="279.27" y="842.92" width="13" height="14.75" fill="#16aeb2" stroke="#fff" stroke-opacity="0.75" stroke-width="0.7"/>
<rect x="292.28" y="842.92" width="13" height="14.75" fill="#2ed65a" stroke="#fff" stroke-opacity="0.75" stroke-width="0.7"/>
<rect x="305.28" y="842.92" width="13" height="14.75" fill="#3de320" stroke="#fff" stroke-opacity="0.75" stroke-width="0.7"/>
<rect x="318.28" y="842.92" width="13" height="14.75" fill="#3de320" stroke="#fff" stroke-opacity="0.75" stroke-width="0.7"/>
<rect x="331.28" y="842.92" width="13" height="14.75" fill="#3de320" stroke="#fff" stroke-opacity="0.75" stroke-width="0.7"/>
<rect x="344.28" y="842.92" width="13" height="14.75" fill="#5de24b" stroke="#fff" stroke-opacity="0.75" stroke-width="0.7"/>
<rect x="357.28" y="842.92" width="13" height="14.75" fill="#5de24b" stroke="#fff" stroke-opacity="0.75" stroke-width="0.7"/>
<rect x="370.29" y="842.92" width="13" height="14.75" fill="#5de24b" stroke="#fff" stroke-opacity="0.75" stroke-width="0.7"/>
<rect x="383.29" y="842.92" width="13" height="14.75" fill="#5de24b" stroke="#fff" stroke-opacity="0.75" stroke-width="0.7"/>
<rect x="396.29" y="842.92" width="13" height="14.75" fill="#3de320" stroke="#fff" stroke-opacity="0.75" stroke-width="0.7"/>
<rect x="409.29" y="842.92" width="13" height="14.75" fill="#5de24b" stroke="#fff" stroke-opacity="0.75" stroke-width="0.7"/>
<rect x="422.29" y="842.92" width="13" height="14.75" fill="#2ed65a" stroke="#fff" stroke-opacity="0.75" stroke-width="0.7"/>
<rect x="435.29" y="842.92" width="13" height="14.75" fill="#5de24b" stroke="#fff" stroke-opacity="0.75" stroke-width="0.7"/>
<rect x="448.3" y="842.92" width="13" height="14.75" fill="#2ed65a" stroke="#fff" stroke-opacity="0.75" stroke-width="0.7"/>
<rect x="461.3" y="842.92" width="13" height="14.75" fill="#22beb2" stroke="#fff" stroke-opacity="0.75" stroke-width="0.7"/>
<rect x="474.3" y="842.92" width="13" height="14.75" fill="#2b4ec4" stroke="#fff" stroke-opacity="0.75" stroke-width="0.7"/>
<rect x="487.3" y="842.92" width="13" height="14.75" fill="#2b4ec4" stroke="#fff" stroke-opacity="0.75" stroke-width="0.7"/>
<rect x="500.3" y="842.92" width="13" height="14.75" fill="#2b4ec4" stroke="#fff" stroke-opacity="0.75" stroke-width="0.7"/>
<rect x="149.26" y="828.17" width="13" height="14.75" fill="#2b4ec4" stroke="#fff" stroke-opacity="0.75" stroke-width="0.7"/>
<rect x="175.26" y="828.17" width="13" height="14.75" fill="#2b4ec4" stroke="#fff" stroke-opacity="0.75" stroke-width="0.7"/>
<rect x="188.26" y="828.17" width="13" height="14.75" fill="#2b4ec4" stroke="#fff" stroke-opacity="0.75" stroke-width="0.7"/>
<rect x="201.26" y="828.17" width="13" height="14.75" fill="#2b4ec4" stroke="#fff" stroke-opacity="0.75" stroke-width="0.7"/>
<rect x="214.27" y="828.17" width="13" height="14.75" fill="#2b4ec4" stroke="#fff" stroke-opacity="0.75" stroke-width="0.7"/>
<rect x="227.27" y="828.17" width="13" height="14.75" fill="#2f66f6" stroke="#fff" stroke-opacity="0.75" stroke-width="0.7"/>
<rect x="240.27" y="828.17" width="13" height="14.75" fill="#2b4ec4" stroke="#fff" stroke-opacity="0.75" stroke-width="0.7"/>
<rect x="253.27" y="828.17" width="13" height="14.75" fill="#2f66f6" stroke="#fff" stroke-opacity="0.75" stroke-width="0.7"/>
<rect x="266.27" y="828.17" width="13" height="14.75" fill="#2b4ec4" stroke="#fff" stroke-opacity="0.75" stroke-width="0.7"/>
<rect x="279.27" y="828.17" width="13" height="14.75" fill="#07a2b3" stroke="#fff" stroke-opacity="0.75" stroke-width="0.7"/>
<rect x="292.28" y="828.17" width="13" height="14.75" fill="#22beb2" stroke="#fff" stroke-opacity="0.75" stroke-width="0.7"/>
<rect x="305.28" y="828.17" width="13" height="14.75" fill="#22beb2" stroke="#fff" stroke-opacity="0.75" stroke-width="0.7"/>
<rect x="318.28" y="828.17" width="13" height="14.75" fill="#22beb2" stroke="#fff" stroke-opacity="0.75" stroke-width="0.7"/>
<rect x="331.28" y="828.17" width="13" height="14.75" fill="#2ed65a" stroke="#fff" stroke-opacity="0.75" stroke-width="0.7"/>
<rect x="344.28" y="828.17" width="13" height="14.75" fill="#2ed65a" stroke="#fff" stroke-opacity="0.75" stroke-width="0.7"/>
<rect x="357.28" y="828.17" width="13" height="14.75" fill="#5de24b" stroke="#fff" stroke-opacity="0.75" stroke-width="0.7"/>
<rect x="370.29" y="828.17" width="13" height="14.75" fill="#5de24b" stroke="#fff" stroke-opacity="0.75" stroke-width="0.7"/>
<rect x="383.29" y="828.17" width="13" height="14.75" fill="#5de24b" stroke="#fff" stroke-opacity="0.75" stroke-width="0.7"/>
<rect x="396.29" y="828.17" width="13" height="14.75" fill="#3de320" stroke="#fff" stroke-opacity="0.75" stroke-width="0.7"/>
<rect x="409.29" y="828.17" width="13" height="14.75" fill="#5de24b" stroke="#fff" stroke-opacity="0.75" stroke-width="0.7"/>
<rect x="422.29" y="828.17" width="13" height="14.75" fill="#44c184" stroke="#fff" stroke-opacity="0.75" stroke-width="0.7"/>
<rect x="435.29" y="828.17" width="13" height="14.75" fill="#22beb2" stroke="#fff" stroke-opacity="0.75" stroke-width="0.7"/>
<rect x="448.3" y="828.17" width="13" height="14.75" fill="#4775f7" stroke="#fff" stroke-opacity="0.75" stroke-width="0.7"/>
<rect x="461.3" y="828.17" width="13" height="14.75" fill="#2b4ec4" stroke="#fff" stroke-opacity="0.75" stroke-width="0.7"/>
<rect x="474.3" y="828.17" width="13" height="14.75" fill="#2b4ec4" stroke="#fff" stroke-opacity="0.75" stroke-width="0.7"/>
<rect x="487.3" y="828.17" width="13" height="14.75" fill="#2b4ec4" stroke="#fff" stroke-opacity="0.75" stroke-width="0.7"/>
<rect x="175.26" y="813.41" width="13" height="14.75" fill="#2b4ec4" stroke="#fff" stroke-opacity="0.75" stroke-width="0.7"/>
<rect x="188.26" y="813.41" width="13" height="14.75" fill="#2b4ec4" stroke="#fff" stroke-opacity="0.75" stroke-width="0.7"/>
<rect x="201.26" y="813.41" width="13" height="14.75" fill="#2b4ec4" stroke="#fff" stroke-opacity="0.75" stroke-width="0.7"/>
<rect x="214.27" y="813.41" width="13" height="14.75" fill="#2b4ec4" stroke="#fff" stroke-opacity="0.75" stroke-width="0.7"/>
<rect x="227.27" y="813.41" width="13" height="14.75" fill="#2b4ec4" stroke="#fff" stroke-opacity="0.75" stroke-width="0.7"/>
<rect x="240.27" y="813.41" width="13" height="14.75" fill="#2b4ec4" stroke="#fff" stroke-opacity="0.75" stroke-width="0.7"/>
<rect x="253.27" y="813.41" width="13" height="14.75" fill="#2b4ec4" stroke="#fff" stroke-opacity="0.75" stroke-width="0.7"/>
<rect x="266.27" y="813.41" width="13" height="14.75" fill="#2a57d8" stroke="#fff" stroke-opacity="0.75" stroke-width="0.7"/>
<rect x="279.27" y="813.41" width="13" height="14.75" fill="#2b4ec4" stroke="#fff" stroke-opacity="0.75" stroke-width="0.7"/>
<rect x="292.28" y="813.41" width="13" height="14.75" fill="#07a2b3" stroke="#fff" stroke-opacity="0.75" stroke-width="0.7"/>
<rect x="305.28" y="813.41" width="13" height="14.75" fill="#22beb2" stroke="#fff" stroke-opacity="0.75" stroke-width="0.7"/>
<rect x="318.28" y="813.41" width="13" height="14.75" fill="#44c184" stroke="#fff" stroke-opacity="0.75" stroke-width="0.7"/>
<rect x="331.28" y="813.41" width="13" height="14.75" fill="#2ed65a" stroke="#fff" stroke-opacity="0.75" stroke-width="0.7"/>
<rect x="344.28" y="813.41" width="13" height="14.75" fill="#2ed65a" stroke="#fff" stroke-opacity="0.75" stroke-width="0.7"/>
<rect x="357.28" y="813.41" width="13" height="14.75" fill="#3de320" stroke="#fff" stroke-opacity="0.75" stroke-width="0.7"/>
<rect x="370.29" y="813.41" width="13" height="14.75" fill="#5de24b" stroke="#fff" stroke-opacity="0.75" stroke-width="0.7"/>
<rect x="383.29" y="813.41" width="13" height="14.75" fill="#44c184" stroke="#fff" stroke-opacity="0.75" stroke-width="0.7"/>
<rect x="396.29" y="813.41" width="13" height="14.75" fill="#2ed65a" stroke="#fff" stroke-opacity="0.75" stroke-width="0.7"/>
<rect x="409.29" y="813.41" width="13" height="14.75" fill="#2ed65a" stroke="#fff" stroke-opacity="0.75" stroke-width="0.7"/>
<rect x="422.29" y="813.41" width="13" height="14.75" fill="#2ed65a" stroke="#fff" stroke-opacity="0.75" stroke-width="0.7"/>
<rect x="435.29" y="813.41" width="13" height="14.75" fill="#22beb2" stroke="#fff" stroke-opacity="0.75" stroke-width="0.7"/>
<rect x="448.3" y="813.41" width="13" height="14.75" fill="#22beb2" stroke="#fff" stroke-opacity="0.75" stroke-width="0.7"/>
<rect x="461.3" y="813.41" width="13" height="14.75" fill="#07a2b3" stroke="#fff" stroke-opacity="0.75" stroke-width="0.7"/>
<rect x="474.3" y="813.41" width="13" height="14.75" fill="#2b4ec4" stroke="#fff" stroke-opacity="0.75" stroke-width="0.7"/>
<rect x="487.3" y="813.41" width="13" height="14.75" fill="#2b4ec4" stroke="#fff" stroke-opacity="0.75" stroke-width="0.7"/>
<rect x="149.26" y="798.66" width="13" height="14.75" fill="#2b4ec4" stroke="#fff" stroke-opacity="0.75" stroke-width="0.7"/>
<rect x="201.26" y="798.66" width="13" height="14.75" fill="#2b4ec4" stroke="#fff" stroke-opacity="0.75" stroke-width="0.7"/>
<rect x="214.27" y="798.66" width="13" height="14.75" fill="#2b4ec4" stroke="#fff" stroke-opacity="0.75" stroke-width="0.7"/>
<rect x="227.27" y="798.66" width="13" height="14.75" fill="#2b4ec4" stroke="#fff" stroke-opacity="0.75" stroke-width="0.7"/>
<rect x="253.27" y="798.66" width="13" height="14.75" fill="#2b4ec4" stroke="#fff" stroke-opacity="0.75" stroke-width="0.7"/>
<rect x="266.27" y="798.66" width="13" height="14.75" fill="#2b4ec4" stroke="#fff" stroke-opacity="0.75" stroke-width="0.7"/>
<rect x="279.27" y="798.66" width="13" height="14.75" fill="#2b4ec4" stroke="#fff" stroke-opacity="0.75" stroke-width="0.7"/>
<rect x="292.28" y="798.66" width="13" height="14.75" fill="#2b4ec4" stroke="#fff" stroke-opacity="0.75" stroke-width="0.7"/>
<rect x="305.28" y="798.66" width="13" height="14.75" fill="#4775f7" stroke="#fff" stroke-opacity="0.75" stroke-width="0.7"/>
<rect x="318.28" y="798.66" width="13" height="14.75" fill="#4775f7" stroke="#fff" stroke-opacity="0.75" stroke-width="0.7"/>
<rect x="331.28" y="798.66" width="13" height="14.75" fill="#07a2b3" stroke="#fff" stroke-opacity="0.75" stroke-width="0.7"/>
<rect x="344.28" y="798.66" width="13" height="14.75" fill="#16aeb2" stroke="#fff" stroke-opacity="0.75" stroke-width="0.7"/>
<rect x="357.28" y="798.66" width="13" height="14.75" fill="#2ed65a" stroke="#fff" stroke-opacity="0.75" stroke-width="0.7"/>
<rect x="370.29" y="798.66" width="13" height="14.75" fill="#16aeb2" stroke="#fff" stroke-opacity="0.75" stroke-width="0.7"/>
<rect x="383.29" y="798.66" width="13" height="14.75" fill="#22beb2" stroke="#fff" stroke-opacity="0.75" stroke-width="0.7"/>
<rect x="396.29" y="798.66" width="13" height="14.75" fill="#07a2b3" stroke="#fff" stroke-opacity="0.75" stroke-width="0.7"/>
<rect x="409.29" y="798.66" width="13" height="14.75" fill="#2f66f6" stroke="#fff" stroke-opacity="0.75" stroke-width="0.7"/>
<rect x="422.29" y="798.66" width="13" height="14.75" fill="#2f66f6" stroke="#fff" stroke-opacity="0.75" stroke-width="0.7"/>
<rect x="435.29" y="798.66" width="13" height="14.75" fill="#2b4ec4" stroke="#fff" stroke-opacity="0.75" stroke-width="0.7"/>
<rect x="448.3" y="798.66" width="13" height="14.75" fill="#2b4ec4" stroke="#fff" stroke-opacity="0.75" stroke-width="0.7"/>
<rect x="461.3" y="798.66" width="13" height="14.75" fill="#2b4ec4" stroke="#fff" stroke-opacity="0.75" stroke-width="0.7"/>
<rect x="474.3" y="798.66" width="13" height="14.75" fill="#2b4ec4" stroke="#fff" stroke-opacity="0.75" stroke-width="0.7"/>
<rect x="292.28" y="783.91" width="13" height="14.75" fill="#2b4ec4" stroke="#fff" stroke-opacity="0.75" stroke-width="0.7"/>
<rect x="305.28" y="783.91" width="13" height="14.75" fill="#2b4ec4" stroke="#fff" stroke-opacity="0.75" stroke-width="0.7"/>
<rect x="318.28" y="783.91" width="13" height="14.75" fill="#2b4ec4" stroke="#fff" stroke-opacity="0.75" stroke-width="0.7"/>
<rect x="331.28" y="783.91" width="13" height="14.75" fill="#2f66f6" stroke="#fff" stroke-opacity="0.75" stroke-width="0.7"/>
<rect x="344.28" y="783.91" width="13" height="14.75" fill="#2f66f6" stroke="#fff" stroke-opacity="0.75" stroke-width="0.7"/>
<rect x="357.28" y="783.91" width="13" height="14.75" fill="#2f66f6" stroke="#fff" stroke-opacity="0.75" stroke-width="0.7"/>
<rect x="370.29" y="783.91" width="13" height="14.75" fill="#07a2b3" stroke="#fff" stroke-opacity="0.75" stroke-width="0.7"/>
<rect x="383.29" y="783.91" width="13" height="14.75" fill="#2f66f6" stroke="#fff" stroke-opacity="0.75" stroke-width="0.7"/>
<rect x="396.29" y="783.91" width="13" height="14.75" fill="#2b4ec4" stroke="#fff" stroke-opacity="0.75" stroke-width="0.7"/>
<rect x="409.29" y="783.91" width="13" height="14.75" fill="#2b4ec4" stroke="#fff" stroke-opacity="0.75" stroke-width="0.7"/>
<rect x="422.29" y="783.91" width="13" height="14.75" fill="#2b4ec4" stroke="#fff" stroke-opacity="0.75" stroke-width="0.7"/>
<rect x="435.29" y="783.91" width="13" height="14.75" fill="#2b4ec4" stroke="#fff" stroke-opacity="0.75" stroke-width="0.7"/>
<rect x="448.3" y="783.91" width="13" height="14.75" fill="#2b4ec4" stroke="#fff" stroke-opacity="0.75" stroke-width="0.7"/>
<rect x="461.3" y="783.91" width="13" height="14.75" fill="#2b4ec4" stroke="#fff" stroke-opacity="0.75" stroke-width="0.7"/>
<rect x="305.28" y="769.15" width="13" height="14.75" fill="#2b4ec4" stroke="#fff" stroke-opacity="0.75" stroke-width="0.7"/>
<rect x="318.28" y="769.15" width="13" height="14.75" fill="#2b4ec4" stroke="#fff" stroke-opacity="0.75" stroke-width="0.7"/>
<rect x="331.28" y="769.15" width="13" height="14.75" fill="#2b4ec4" stroke="#fff" stroke-opacity="0.75" stroke-width="0.7"/>
<rect x="344.28" y="769.15" width="13" height="14.75" fill="#2b4ec4" stroke="#fff" stroke-opacity="0.75" stroke-width="0.7"/>
<rect x="357.28" y="769.15" width="13" height="14.75" fill="#2f66f6" stroke="#fff" stroke-opacity="0.75" stroke-width="0.7"/>
<rect x="370.29" y="769.15" width="13" height="14.75" fill="#2b4ec4" stroke="#fff" stroke-opacity="0.75" stroke-width="0.7"/>
<rect x="383.29" y="769.15" width="13" height="14.75" fill="#2b4ec4" stroke="#fff" stroke-opacity="0.75" stroke-width="0.7"/>
<rect x="396.29" y="769.15" width="13" height="14.75" fill="#2b4ec4" stroke="#fff" stroke-opacity="0.75" stroke-width="0.7"/>
<rect x="409.29" y="769.15" width="13" height="14.75" fill="#2b4ec4" stroke="#fff" stroke-opacity="0.75" stroke-width="0.7"/>
<rect x="422.29" y="769.15" width="13" height="14.75" fill="#2b4ec4" stroke="#fff" stroke-opacity="0.75" stroke-width="0.7"/>
<rect x="435.29" y="769.15" width="13" height="14.75" fill="#2b4ec4" stroke="#fff" stroke-opacity="0.75" stroke-width="0.7"/>
<rect x="318.28" y="754.4" width="13" height="14.75" fill="#2b4ec4" stroke="#fff" stroke-opacity="0.75" stroke-width="0.7"/>
<rect x="331.28" y="754.4" width="13" height="14.75" fill="#2b4ec4" stroke="#fff" stroke-opacity="0.75" stroke-width="0.7"/>
<rect x="344.28" y="754.4" width="13" height="14.75" fill="#2b4ec4" stroke="#fff" stroke-opacity="0.75" stroke-width="0.7"/>
<rect x="357.28" y="754.4" width="13" height="14.75" fill="#2b4ec4" stroke="#fff" stroke-opacity="0.75" stroke-width="0.7"/>
<rect x="370.29" y="754.4" width="13" height="14.75" fill="#2b4ec4" stroke="#fff" stroke-opacity="0.75" stroke-width="0.7"/>
<rect x="383.29" y="754.4" width="13" height="14.75" fill="#2b4ec4" stroke="#fff" stroke-opacity="0.75" stroke-width="0.7"/>
<rect x="396.29" y="754.4" width="13" height="14.75" fill="#2b4ec4" stroke="#fff" stroke-opacity="0.75" stroke-width="0.7"/>
<rect x="331.28" y="739.65" width="13" height="14.75" fill="#2b4ec4" stroke="#fff" stroke-opacity="0.75" stroke-width="0.7"/>
<rect x="591.31" y="739.65" width="13" height="14.75" fill="#2b4ec4" stroke="#fff" stroke-opacity="0.75" stroke-width="0.7"/>
<rect x="617.32" y="739.65" width="13" height="14.75" fill="#2b4ec4" stroke="#fff" stroke-opacity="0.75" stroke-width="0.7"/>
<rect x="591.31" y="724.9" width="13" height="14.75" fill="#2b4ec4" stroke="#fff" stroke-opacity="0.75" stroke-width="0.7"/>
<rect x="604.32" y="724.9" width="13" height="14.75" fill="#2b4ec4" stroke="#fff" stroke-opacity="0.75" stroke-width="0.7"/>
<rect x="617.32" y="724.9" width="13" height="14.75" fill="#2b4ec4" stroke="#fff" stroke-opacity="0.75" stroke-width="0.7"/>
<rect x="630.32" y="724.9" width="13" height="14.75" fill="#2b4ec4" stroke="#fff" stroke-opacity="0.75" stroke-width="0.7"/>
<rect x="643.32" y="724.9" width="13" height="14.75" fill="#2b4ec4" stroke="#fff" stroke-opacity="0.75" stroke-width="0.7"/>
<rect x="617.32" y="710.14" width="13" height="14.75" fill="#2b4ec4" stroke="#fff" stroke-opacity="0.75" stroke-width="0.7"/>
<rect x="643.32" y="710.14" width="13" height="14.75" fill="#2b4ec4" stroke="#fff" stroke-opacity="0.75" stroke-width="0.7"/>
<rect x="656.32" y="710.14" width="13" height="14.75" fill="#2b4ec4" stroke="#fff" stroke-opacity="0.75" stroke-width="0.7"/>
<rect x="669.32" y="710.14" width="13" height="14.75" fill="#2b4ec4" stroke="#fff" stroke-opacity="0.75" stroke-width="0.7"/>
<rect x="617.32" y="695.39" width="13" height="14.75" fill="#2b4ec4" stroke="#fff" stroke-opacity="0.75" stroke-width="0.7"/>
<rect x="630.32" y="695.39" width="13" height="14.75" fill="#2b4ec4" stroke="#fff" stroke-opacity="0.75" stroke-width="0.7"/>
<rect x="643.32" y="695.39" width="13" height="14.75" fill="#2b4ec4" stroke="#fff" stroke-opacity="0.75" stroke-width="0.7"/>
<rect x="656.32" y="695.39" width="13" height="14.75" fill="#2b4ec4" stroke="#fff" stroke-opacity="0.75" stroke-width="0.7"/>
<rect x="669.32" y="695.39" width="13" height="14.75" fill="#2b4ec4" stroke="#fff" stroke-opacity="0.75" stroke-width="0.7"/>
<rect x="682.33" y="695.39" width="13" height="14.75" fill="#2b4ec4" stroke="#fff" stroke-opacity="0.75" stroke-width="0.7"/>
<rect x="643.32" y="680.64" width="13" height="14.75" fill="#2b4ec4" stroke="#fff" stroke-opacity="0.75" stroke-width="0.7"/>
<line x1="461.3" x2="461.3" y1="518.35" y2="975.7" stroke="#bbbbbb" stroke-width="1.4"/>
<line x1="474.3" x2="474.3" y1="518.35" y2="975.7" stroke="#bbbbbb" stroke-width="1.4"/>
<line x1="84.25" x2="877.35" y1="621.62" y2="621.62" stroke="#bbbbbb" stroke-width="1.4"/>
<line x1="84.25" x2="877.35" y1="606.87" y2="606.87" stroke="#bbbbbb" stroke-width="1.4"/>
<path d="M266.27 813.41H331.28M344.28 813.41H357.28M396.29 813.41H409.29M461.3 813.41H487.3M604.32 813.41H617.32M266.27 798.66H279.27M292.28 798.66H305.28M318.28 798.66H331.28M344.28 798.66H357.28M383.29 798.66H422.29M461.3 798.66H487.3M617.32 798.66H630.32M188.26 872.43H201.26M240.27 872.43H292.28M500.3 872.43H513.3M526.31 872.43H578.31M188.26 857.67H201.26M240.27 857.67H292.28M305.28 857.67H318.28M487.3 857.67H500.3M591.31 857.67H604.32M240.27 887.18H266.27M279.27 887.18H305.28M513.3 887.18H526.31M240.27 842.92H292.28M305.28 842.92H331.28M370.29 842.92H383.29M487.3 842.92H500.3M578.31 842.92H604.32M240.27 828.17H253.27M266.27 828.17H331.28M370.29 828.17H383.29M461.3 828.17H474.3M487.3 828.17H500.3M591.31 828.17H604.32M253.27 916.69H266.27M240.27 901.93H266.27M383.29 783.91H396.29M409.29 783.91H422.29M461.3 783.91H487.3M630.32 783.91H643.32M422.29 754.4H435.29M474.3 754.4H487.3M513.3 754.4H526.31M630.32 754.4H669.32M708.33 754.4H721.33M422.29 739.65H435.29M474.3 739.65H487.3M500.3 739.65H513.3M539.31 739.65H552.31M643.32 739.65H682.33M695.33 739.65H708.33M474.3 769.15H487.3M513.3 769.15H526.31M630.32 769.15H656.32M539.31 710.14H565.31M656.32 710.14H669.32M838.35 710.14H851.35M513.3 695.39H539.31M552.31 695.39H565.31M656.32 695.39H669.32M721.33 695.39H734.33M747.33 695.39H760.34M773.34 695.39H786.34M864.35 695.39H877.35M734.33 518.35H786.34M643.32 533.1H734.33M747.33 533.1H760.34M643.32 547.86H734.33M643.32 562.61H734.33M630.32 577.36H656.32M617.32 592.12H643.32M617.32 606.87H630.32M643.32 606.87H656.32M604.32 621.62H643.32M591.31 651.13H604.32M851.35 651.13H864.35M539.31 665.88H552.31M565.31 665.88H591.31M487.3 724.9H500.3M552.31 724.9H565.31M656.32 724.9H669.32M682.33 724.9H695.33M734.33 724.9H747.33M760.34 724.9H773.34M786.34 724.9H799.34M812.34 724.9H825.34M799.34 680.64H812.34M825.34 680.64H838.35M318.28 798.66V857.67M331.28 828.17V842.92M331.28 798.66V813.41M266.27 901.93V916.69M266.27 828.17V887.18M266.27 798.66V813.41M279.27 798.66V887.18M240.27 887.18V901.93M240.27 857.67V872.43M240.27 828.17V842.92M253.27 828.17V916.69M344.28 798.66V813.41M357.28 798.66V813.41M292.28 857.67V872.43M292.28 798.66V842.92M305.28 857.67V887.18M305.28 798.66V842.92M188.26 857.67V872.43M201.26 857.67V872.43M370.29 828.17V842.92M383.29 828.17V842.92M383.29 783.91V798.66M409.29 783.91V813.41M422.29 783.91V798.66M422.29 739.65V754.4M396.29 783.91V813.41M435.29 739.65V754.4M513.3 872.43V887.18M513.3 754.4V769.15M513.3 695.39V739.65M526.31 872.43V887.18M526.31 754.4V769.15M656.32 724.9V769.15M656.32 695.39V710.14M656.32 577.36V606.87M669.32 724.9V754.4M669.32 695.39V710.14M591.31 828.17V857.67M591.31 651.13V665.88M604.32 842.92V857.67M604.32 813.41V828.17M604.32 621.62V651.13M734.33 695.39V724.9M734.33 547.86V562.61M734.33 518.35V533.1M747.33 695.39V724.9M747.33 518.35V533.1M760.34 695.39V724.9M760.34 518.35V533.1M643.32 739.65V783.91M643.32 606.87V621.62M643.32 562.61V592.12M643.32 533.1V547.86M630.32 783.91V798.66M630.32 754.4V769.15M630.32 577.36V606.87M617.32 798.66V813.41M617.32 592.12V606.87M565.31 710.14V724.9M565.31 665.88V695.39M552.31 724.9V739.65M552.31 665.88V695.39M539.31 710.14V739.65M539.31 665.88V695.39M500.3 857.67V872.43M500.3 828.17V842.92M500.3 724.9V739.65M487.3 842.92V857.67M487.3 813.41V828.17M487.3 783.91V798.66M487.3 754.4V769.15M487.3 724.9V739.65M474.3 769.15V828.17M474.3 739.65V754.4M461.3 813.41V828.17M461.3 783.91V798.66M578.31 842.92V872.43M682.33 724.9V739.65M695.33 724.9V739.65M708.33 739.65V754.4M721.33 695.39V754.4M773.34 695.39V724.9M786.34 695.39V724.9M799.34 680.64V724.9M812.34 680.64V724.9M825.34 680.64V724.9M838.35 680.64V710.14M851.35 651.13V710.14M864.35 651.13V695.39M877.35 621.62V695.39" stroke="#6a1b9a" stroke-width="2.8" fill="none" stroke-linecap="square" stroke-linejoin="miter"/>
</g></g>
<text x="740.75" y="893.9" font-size="26.5" text-anchor="middle">(b)</text>
<rect x="84.25" y="518.35" width="793.1" height="457.35" fill="none" stroke="#000" stroke-width="1.4"/>
<path d="M90.75 975.7v-3.1M90.75 518.35v3.1M103.75 975.7v-3.1M103.75 518.35v3.1M116.75 975.7v-3.1M116.75 518.35v3.1M129.76 975.7v-3.1M129.76 518.35v3.1M142.76 975.7v-3.1M142.76 518.35v3.1M155.76 975.7v-5.6M155.76 518.35v5.6M168.76 975.7v-3.1M168.76 518.35v3.1M181.76 975.7v-3.1M181.76 518.35v3.1M194.76 975.7v-3.1M194.76 518.35v3.1M207.77 975.7v-3.1M207.77 518.35v3.1M220.77 975.7v-3.1M220.77 518.35v3.1M233.77 975.7v-3.1M233.77 518.35v3.1M246.77 975.7v-3.1M246.77 518.35v3.1M259.77 975.7v-3.1M259.77 518.35v3.1M272.77 975.7v-3.1M272.77 518.35v3.1M285.78 975.7v-5.6M285.78 518.35v5.6M298.78 975.7v-3.1M298.78 518.35v3.1M311.78 975.7v-3.1M311.78 518.35v3.1M324.78 975.7v-3.1M324.78 518.35v3.1M337.78 975.7v-3.1M337.78 518.35v3.1M350.78 975.7v-3.1M350.78 518.35v3.1M363.79 975.7v-3.1M363.79 518.35v3.1M376.79 975.7v-3.1M376.79 518.35v3.1M389.79 975.7v-3.1M389.79 518.35v3.1M402.79 975.7v-3.1M402.79 518.35v3.1M415.79 975.7v-5.6M415.79 518.35v5.6M428.79 975.7v-3.1M428.79 518.35v3.1M441.8 975.7v-3.1M441.8 518.35v3.1M454.8 975.7v-3.1M454.8 518.35v3.1M467.8 975.7v-3.1M467.8 518.35v3.1M480.8 975.7v-3.1M480.8 518.35v3.1M493.8 975.7v-3.1M493.8 518.35v3.1M506.8 975.7v-3.1M506.8 518.35v3.1M519.8 975.7v-3.1M519.8 518.35v3.1M532.81 975.7v-3.1M532.81 518.35v3.1M545.81 975.7v-5.6M545.81 518.35v5.6M558.81 975.7v-3.1M558.81 518.35v3.1M571.81 975.7v-3.1M571.81 518.35v3.1M584.81 975.7v-3.1M584.81 518.35v3.1M597.81 975.7v-3.1M597.81 518.35v3.1M610.82 975.7v-3.1M610.82 518.35v3.1M623.82 975.7v-3.1M623.82 518.35v3.1M636.82 975.7v-3.1M636.82 518.35v3.1M649.82 975.7v-3.1M649.82 518.35v3.1M662.82 975.7v-3.1M662.82 518.35v3.1M675.82 975.7v-5.6M675.82 518.35v5.6M688.83 975.7v-3.1M688.83 518.35v3.1M701.83 975.7v-3.1M701.83 518.35v3.1M714.83 975.7v-3.1M714.83 518.35v3.1M727.83 975.7v-3.1M727.83 518.35v3.1M740.83 975.7v-3.1M740.83 518.35v3.1M753.83 975.7v-3.1M753.83 518.35v3.1M766.84 975.7v-3.1M766.84 518.35v3.1M779.84 975.7v-3.1M779.84 518.35v3.1M792.84 975.7v-3.1M792.84 518.35v3.1M805.84 975.7v-5.6M805.84 518.35v5.6M818.84 975.7v-3.1M818.84 518.35v3.1M831.84 975.7v-3.1M831.84 518.35v3.1M844.85 975.7v-3.1M844.85 518.35v3.1M857.85 975.7v-3.1M857.85 518.35v3.1M870.85 975.7v-3.1M870.85 518.35v3.1M84.25 968.32h5.6M877.35 968.32h-5.6M84.25 953.57h3.1M877.35 953.57h-3.1M84.25 938.82h3.1M877.35 938.82h-3.1M84.25 924.06h3.1M877.35 924.06h-3.1M84.25 909.31h3.1M877.35 909.31h-3.1M84.25 894.56h5.6M877.35 894.56h-5.6M84.25 879.8h3.1M877.35 879.8h-3.1M84.25 865.05h3.1M877.35 865.05h-3.1M84.25 850.3h3.1M877.35 850.3h-3.1M84.25 835.54h3.1M877.35 835.54h-3.1M84.25 820.79h5.6M877.35 820.79h-5.6M84.25 806.04h3.1M877.35 806.04h-3.1M84.25 791.28h3.1M877.35 791.28h-3.1M84.25 776.53h3.1M877.35 776.53h-3.1M84.25 761.78h3.1M877.35 761.78h-3.1M84.25 747.03h5.6M877.35 747.03h-5.6M84.25 732.27h3.1M877.35 732.27h-3.1M84.25 717.52h3.1M877.35 717.52h-3.1M84.25 702.77h3.1M877.35 702.77h-3.1M84.25 688.01h3.1M877.35 688.01h-3.1M84.25 673.26h5.6M877.35 673.26h-5.6M84.25 658.51h3.1M877.35 658.51h-3.1M84.25 643.75h3.1M877.35 643.75h-3.1M84.25 629h3.1M877.35 629h-3.1M84.25 614.25h3.1M877.35 614.25h-3.1M84.25 599.49h5.6M877.35 599.49h-5.6M84.25 584.74h3.1M877.35 584.74h-3.1M84.25 569.99h3.1M877.35 569.99h-3.1M84.25 555.23h3.1M877.35 555.23h-3.1M84.25 540.48h3.1M877.35 540.48h-3.1M84.25 525.73h5.6M877.35 525.73h-5.6" stroke="#000" stroke-width="1.1"/>
<text x="155.76" y="998.7" font-size="23.9" text-anchor="middle">160</text>
<text x="285.78" y="998.7" font-size="23.9" text-anchor="middle">170</text>
<text x="415.79" y="998.7" font-size="23.9" text-anchor="middle">180</text>
<text x="545.81" y="998.7" font-size="23.9" text-anchor="middle">190</text>
<text x="675.82" y="998.7" font-size="23.9" text-anchor="middle">200</text>
<text x="805.84" y="998.7" font-size="23.9" text-anchor="middle">210</text>
<text x="80.15" y="977.62" font-size="23.9" text-anchor="end">90</text>
<text x="80.15" y="903.86" font-size="23.9" text-anchor="end">95</text>
<text x="80.15" y="830.09" font-size="23.9" text-anchor="end">100</text>
<text x="80.15" y="756.33" font-size="23.9" text-anchor="end">105</text>
<text x="80.15" y="682.56" font-size="23.9" text-anchor="end">110</text>
<text x="80.15" y="608.79" font-size="23.9" text-anchor="end">115</text>
<text x="80.15" y="535.03" font-size="23.9" text-anchor="end">120</text>
<text transform="translate(22.7 747.03) rotate(-90)" font-size="29.6" text-anchor="middle">Proton Number, Z</text>
<rect x="884.75" y="947.12" width="23.65" height="28.88" fill="#2b4ec4"/>
<rect x="884.75" y="918.53" width="23.65" height="28.88" fill="#2a57d8"/>
<rect x="884.75" y="889.95" width="23.65" height="28.88" fill="#2f66f6"/>
<rect x="884.75" y="861.36" width="23.65" height="28.88" fill="#4775f7"/>
<rect x="884.75" y="832.78" width="23.65" height="28.88" fill="#07a2b3"/>
<rect x="884.75" y="804.19" width="23.65" height="28.88" fill="#16aeb2"/>
<rect x="884.75" y="775.61" width="23.65" height="28.88" fill="#22beb2"/>
<rect x="884.75" y="747.03" width="23.65" height="28.88" fill="#44c184"/>
<rect x="884.75" y="718.44" width="23.65" height="28.88" fill="#2ed65a"/>
<rect x="884.75" y="689.86" width="23.65" height="28.88" fill="#3de320"/>
<rect x="884.75" y="661.27" width="23.65" height="28.88" fill="#5de24b"/>
<rect x="884.75" y="632.69" width="23.65" height="28.88" fill="#bcd451"/>
<rect x="884.75" y="604.1" width="23.65" height="28.88" fill="#e6cc48"/>
<rect x="884.75" y="575.52" width="23.65" height="28.88" fill="#fed52a"/>
<rect x="884.75" y="546.93" width="23.65" height="28.88" fill="#fee443"/>
<rect x="884.75" y="518.35" width="23.65" height="28.88" fill="#fdf381"/>
<rect x="884.75" y="518.35" width="23.65" height="457.35" fill="none" stroke="#000" stroke-width="1.1"/>
<path d="M908.4 975.7h5.5M908.4 947.12h5.5M908.4 918.53h5.5M908.4 889.95h5.5M908.4 861.36h5.5M908.4 832.78h5.5M908.4 804.19h5.5M908.4 775.61h5.5M908.4 747.03h5.5M908.4 718.44h5.5M908.4 689.86h5.5M908.4 661.27h5.5M908.4 632.69h5.5M908.4 604.1h5.5M908.4 575.52h5.5M908.4 546.93h5.5M908.4 518.35h5.5" stroke="#000" stroke-width="1.1"/>
<text x="919.3" y="527.95" font-size="26.6">10</text>
<text x="952" y="517.75" font-size="18.6">−2</text>
<text x="919.3" y="585.12" font-size="26.6">10</text>
<text x="952" y="574.92" font-size="18.6">−3</text>
<text x="919.3" y="642.29" font-size="26.6">10</text>
<text x="952" y="632.09" font-size="18.6">−4</text>
<text x="919.3" y="699.46" font-size="26.6">10</text>
<text x="952" y="689.26" font-size="18.6">−5</text>
<text x="919.3" y="756.63" font-size="26.6">10</text>
<text x="952" y="746.43" font-size="18.6">−6</text>
<text x="919.3" y="813.79" font-size="26.6">10</text>
<text x="952" y="803.59" font-size="18.6">−7</text>
<text x="919.3" y="870.96" font-size="26.6">10</text>
<text x="952" y="860.76" font-size="18.6">−8</text>
<text x="919.3" y="928.13" font-size="26.6">10</text>
<text x="952" y="917.93" font-size="18.6">−9</text>
<text x="919.3" y="985.3" font-size="26.6">10</text>
<text x="952" y="975.1" font-size="18.6">−10</text>
<text transform="translate(1019.3 747.03) rotate(-90)" font-size="26.5" text-anchor="middle">Abundance</text>
<text x="480.8" y="1031.7" font-size="29.6" text-anchor="middle">Neutron Number, N</text>
</svg></body></html>
